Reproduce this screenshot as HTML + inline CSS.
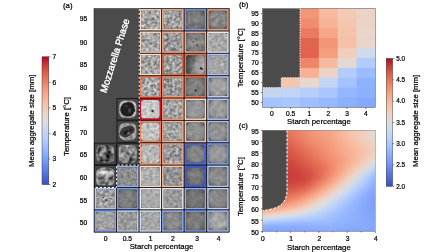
<!DOCTYPE html>
<html lang="en"><head><meta charset="utf-8"><title>Mean aggregate size phase diagram</title>
<style>html,body{margin:0;padding:0;background:#fff;overflow:hidden}svg{display:block}text{font-family:'Liberation Sans', Arial, Helvetica, sans-serif;fill:#000;stroke:#000;stroke-width:0.22px}</style>
</head><body>
<svg width="448" height="252" viewBox="0 0 448 252">
<rect x="0" y="0" width="448" height="252" fill="#fff"/>
<defs><radialGradient id="vig" cx="0.5" cy="0.5" r="0.72"><stop offset="0" stop-color="#fff" stop-opacity="0.06"/><stop offset="0.5" stop-color="#000" stop-opacity="0"/><stop offset="0.80" stop-color="#000" stop-opacity="0.18"/><stop offset="1" stop-color="#1a0d00" stop-opacity="0.8"/></radialGradient><radialGradient id="mvig" cx="0.5" cy="0.5" r="0.72"><stop offset="0.6" stop-color="#000" stop-opacity="0"/><stop offset="0.82" stop-color="#000" stop-opacity="0.25"/><stop offset="1" stop-color="#000" stop-opacity="0.7"/></radialGradient><linearGradient id="lg85" x1="0" y1="0" x2="1" y2="0.3"><stop offset="0" stop-color="#000" stop-opacity="0.36"/><stop offset="0.45" stop-color="#000" stop-opacity="0.08"/><stop offset="0.55" stop-color="#fff" stop-opacity="0.12"/><stop offset="1" stop-color="#fff" stop-opacity="0.42"/></linearGradient><filter id="n0_2" x="0" y="0" width="1" height="1" color-interpolation-filters="sRGB"><feTurbulence type="fractalNoise" baseFrequency="0.33" numOctaves="2" seed="2" result="t"/><feColorMatrix in="t" type="matrix" values="0.763 0 0 0 0.258 0.763 0 0 0 0.258 0.763 0 0 0 0.258 0 0 0 0 1" result="g"/><feComposite in="g" in2="SourceGraphic" operator="in"/></filter><filter id="n0_3" x="0" y="0" width="1" height="1" color-interpolation-filters="sRGB"><feTurbulence type="fractalNoise" baseFrequency="0.33" numOctaves="2" seed="3" result="t"/><feColorMatrix in="t" type="matrix" values="0.763 0 0 0 0.238 0.763 0 0 0 0.238 0.763 0 0 0 0.238 0 0 0 0 1" result="g"/><feComposite in="g" in2="SourceGraphic" operator="in"/></filter><filter id="n0_4" x="0" y="0" width="1" height="1" color-interpolation-filters="sRGB"><feTurbulence type="fractalNoise" baseFrequency="0.22" numOctaves="2" seed="4" result="t"/><feColorMatrix in="t" type="matrix" values="0.231 0 0 0 0.375 0.231 0 0 0 0.375 0.231 0 0 0 0.375 0 0 0 0 1" result="g"/><feComposite in="g" in2="SourceGraphic" operator="in"/></filter><filter id="n0_5" x="0" y="0" width="1" height="1" color-interpolation-filters="sRGB"><feTurbulence type="fractalNoise" baseFrequency="0.22" numOctaves="2" seed="5" result="t"/><feColorMatrix in="t" type="matrix" values="0.277 0 0 0 0.392 0.277 0 0 0 0.392 0.277 0 0 0 0.392 0 0 0 0 1" result="g"/><feComposite in="g" in2="SourceGraphic" operator="in"/></filter><filter id="n1_2" x="0" y="0" width="1" height="1" color-interpolation-filters="sRGB"><feTurbulence type="fractalNoise" baseFrequency="0.33" numOctaves="2" seed="6" result="t"/><feColorMatrix in="t" type="matrix" values="0.715 0 0 0 0.292 0.715 0 0 0 0.292 0.715 0 0 0 0.292 0 0 0 0 1" result="g"/><feComposite in="g" in2="SourceGraphic" operator="in"/></filter><filter id="n1_3" x="0" y="0" width="1" height="1" color-interpolation-filters="sRGB"><feTurbulence type="fractalNoise" baseFrequency="0.33" numOctaves="2" seed="7" result="t"/><feColorMatrix in="t" type="matrix" values="0.763 0 0 0 0.218 0.763 0 0 0 0.218 0.763 0 0 0 0.218 0 0 0 0 1" result="g"/><feComposite in="g" in2="SourceGraphic" operator="in"/></filter><filter id="n1_4" x="0" y="0" width="1" height="1" color-interpolation-filters="sRGB"><feTurbulence type="fractalNoise" baseFrequency="0.22" numOctaves="2" seed="8" result="t"/><feColorMatrix in="t" type="matrix" values="0.277 0 0 0 0.392 0.277 0 0 0 0.392 0.277 0 0 0 0.392 0 0 0 0 1" result="g"/><feComposite in="g" in2="SourceGraphic" operator="in"/></filter><filter id="n1_5" x="0" y="0" width="1" height="1" color-interpolation-filters="sRGB"><feTurbulence type="fractalNoise" baseFrequency="0.33" numOctaves="2" seed="9" result="t"/><feColorMatrix in="t" type="matrix" values="0.429 0 0 0 0.445 0.429 0 0 0 0.445 0.429 0 0 0 0.445 0 0 0 0 1" result="g"/><feComposite in="g" in2="SourceGraphic" operator="in"/></filter><filter id="n2_2" x="0" y="0" width="1" height="1" color-interpolation-filters="sRGB"><feTurbulence type="fractalNoise" baseFrequency="0.33" numOctaves="2" seed="10" result="t"/><feColorMatrix in="t" type="matrix" values="0.763 0 0 0 0.258 0.763 0 0 0 0.258 0.763 0 0 0 0.258 0 0 0 0 1" result="g"/><feComposite in="g" in2="SourceGraphic" operator="in"/></filter><filter id="n2_3" x="0" y="0" width="1" height="1" color-interpolation-filters="sRGB"><feTurbulence type="fractalNoise" baseFrequency="0.33" numOctaves="2" seed="11" result="t"/><feColorMatrix in="t" type="matrix" values="0.715 0 0 0 0.262 0.715 0 0 0 0.262 0.715 0 0 0 0.262 0 0 0 0 1" result="g"/><feComposite in="g" in2="SourceGraphic" operator="in"/></filter><filter id="n2_4" x="0" y="0" width="1" height="1" color-interpolation-filters="sRGB"><feTurbulence type="fractalNoise" baseFrequency="0.22" numOctaves="2" seed="12" result="t"/><feColorMatrix in="t" type="matrix" values="0.231 0 0 0 0.345 0.231 0 0 0 0.345 0.231 0 0 0 0.345 0 0 0 0 1" result="g"/><feComposite in="g" in2="SourceGraphic" operator="in"/></filter><filter id="n2_5" x="0" y="0" width="1" height="1" color-interpolation-filters="sRGB"><feTurbulence type="fractalNoise" baseFrequency="0.33" numOctaves="2" seed="13" result="t"/><feColorMatrix in="t" type="matrix" values="0.334 0 0 0 0.483 0.334 0 0 0 0.483 0.334 0 0 0 0.483 0 0 0 0 1" result="g"/><feComposite in="g" in2="SourceGraphic" operator="in"/></filter><filter id="n3_2" x="0" y="0" width="1" height="1" color-interpolation-filters="sRGB"><feTurbulence type="fractalNoise" baseFrequency="0.33" numOctaves="2" seed="14" result="t"/><feColorMatrix in="t" type="matrix" values="0.811 0 0 0 0.255 0.811 0 0 0 0.255 0.811 0 0 0 0.255 0 0 0 0 1" result="g"/><feComposite in="g" in2="SourceGraphic" operator="in"/></filter><filter id="n3_3" x="0" y="0" width="1" height="1" color-interpolation-filters="sRGB"><feTurbulence type="fractalNoise" baseFrequency="0.33" numOctaves="2" seed="15" result="t"/><feColorMatrix in="t" type="matrix" values="0.763 0 0 0 0.208 0.763 0 0 0 0.208 0.763 0 0 0 0.208 0 0 0 0 1" result="g"/><feComposite in="g" in2="SourceGraphic" operator="in"/></filter><filter id="n3_4" x="0" y="0" width="1" height="1" color-interpolation-filters="sRGB"><feTurbulence type="fractalNoise" baseFrequency="0.22" numOctaves="2" seed="16" result="t"/><feColorMatrix in="t" type="matrix" values="0.185 0 0 0 0.408 0.185 0 0 0 0.408 0.185 0 0 0 0.408 0 0 0 0 1" result="g"/><feComposite in="g" in2="SourceGraphic" operator="in"/></filter><filter id="n3_5" x="0" y="0" width="1" height="1" color-interpolation-filters="sRGB"><feTurbulence type="fractalNoise" baseFrequency="0.22" numOctaves="2" seed="17" result="t"/><feColorMatrix in="t" type="matrix" values="0.231 0 0 0 0.515 0.231 0 0 0 0.515 0.231 0 0 0 0.515 0 0 0 0 1" result="g"/><feComposite in="g" in2="SourceGraphic" operator="in"/></filter><filter id="n4_1" x="0" y="0" width="1" height="1" color-interpolation-filters="sRGB"><feTurbulence type="fractalNoise" baseFrequency="0.3" numOctaves="2" seed="18" result="t"/><feColorMatrix in="t" type="matrix" values="0.538 0 0 0 0.411 0.538 0 0 0 0.411 0.538 0 0 0 0.411 0 0 0 0 1" result="g"/><feComposite in="g" in2="SourceGraphic" operator="in"/></filter><filter id="n4_2" x="0" y="0" width="1" height="1" color-interpolation-filters="sRGB"><feTurbulence type="fractalNoise" baseFrequency="0.32" numOctaves="2" seed="19" result="t"/><feColorMatrix in="t" type="matrix" values="0.400 0 0 0 0.580 0.400 0 0 0 0.580 0.400 0 0 0 0.580 0 0 0 0 1" result="g"/><feComposite in="g" in2="SourceGraphic" operator="in"/></filter><filter id="n4_3" x="0" y="0" width="1" height="1" color-interpolation-filters="sRGB"><feTurbulence type="fractalNoise" baseFrequency="0.33" numOctaves="2" seed="20" result="t"/><feColorMatrix in="t" type="matrix" values="0.668 0 0 0 0.306 0.668 0 0 0 0.306 0.668 0 0 0 0.306 0 0 0 0 1" result="g"/><feComposite in="g" in2="SourceGraphic" operator="in"/></filter><filter id="n4_4" x="0" y="0" width="1" height="1" color-interpolation-filters="sRGB"><feTurbulence type="fractalNoise" baseFrequency="0.22" numOctaves="2" seed="21" result="t"/><feColorMatrix in="t" type="matrix" values="0.231 0 0 0 0.475 0.231 0 0 0 0.475 0.231 0 0 0 0.475 0 0 0 0 1" result="g"/><feComposite in="g" in2="SourceGraphic" operator="in"/></filter><filter id="n4_5" x="0" y="0" width="1" height="1" color-interpolation-filters="sRGB"><feTurbulence type="fractalNoise" baseFrequency="0.22" numOctaves="2" seed="22" result="t"/><feColorMatrix in="t" type="matrix" values="0.231 0 0 0 0.495 0.231 0 0 0 0.495 0.231 0 0 0 0.495 0 0 0 0 1" result="g"/><feComposite in="g" in2="SourceGraphic" operator="in"/></filter><filter id="n5_1" x="0" y="0" width="1" height="1" color-interpolation-filters="sRGB"><feTurbulence type="fractalNoise" baseFrequency="0.3" numOctaves="2" seed="23" result="t"/><feColorMatrix in="t" type="matrix" values="0.538 0 0 0 0.331 0.538 0 0 0 0.331 0.538 0 0 0 0.331 0 0 0 0 1" result="g"/><feComposite in="g" in2="SourceGraphic" operator="in"/></filter><filter id="n5_2" x="0" y="0" width="1" height="1" color-interpolation-filters="sRGB"><feTurbulence type="fractalNoise" baseFrequency="0.32" numOctaves="2" seed="24" result="t"/><feColorMatrix in="t" type="matrix" values="0.450 0 0 0 0.535 0.450 0 0 0 0.535 0.450 0 0 0 0.535 0 0 0 0 1" result="g"/><feComposite in="g" in2="SourceGraphic" operator="in"/></filter><filter id="n5_3" x="0" y="0" width="1" height="1" color-interpolation-filters="sRGB"><feTurbulence type="fractalNoise" baseFrequency="0.33" numOctaves="2" seed="25" result="t"/><feColorMatrix in="t" type="matrix" values="0.572 0 0 0 0.344 0.572 0 0 0 0.344 0.572 0 0 0 0.344 0 0 0 0 1" result="g"/><feComposite in="g" in2="SourceGraphic" operator="in"/></filter><filter id="n5_4" x="0" y="0" width="1" height="1" color-interpolation-filters="sRGB"><feTurbulence type="fractalNoise" baseFrequency="0.22" numOctaves="2" seed="26" result="t"/><feColorMatrix in="t" type="matrix" values="0.231 0 0 0 0.455 0.231 0 0 0 0.455 0.231 0 0 0 0.455 0 0 0 0 1" result="g"/><feComposite in="g" in2="SourceGraphic" operator="in"/></filter><filter id="n5_5" x="0" y="0" width="1" height="1" color-interpolation-filters="sRGB"><feTurbulence type="fractalNoise" baseFrequency="0.22" numOctaves="2" seed="27" result="t"/><feColorMatrix in="t" type="matrix" values="0.231 0 0 0 0.465 0.231 0 0 0 0.465 0.231 0 0 0 0.465 0 0 0 0 1" result="g"/><feComposite in="g" in2="SourceGraphic" operator="in"/></filter><filter id="n6_0" x="0" y="0" width="1" height="1" color-interpolation-filters="sRGB"><feTurbulence type="fractalNoise" baseFrequency="0.17" numOctaves="2" seed="28" result="t"/><feColorMatrix in="t" type="matrix" values="1.308 0 0 0 -0.254 1.308 0 0 0 -0.254 1.308 0 0 0 -0.254 0 0 0 0 1" result="g"/><feComposite in="g" in2="SourceGraphic" operator="in"/></filter><filter id="n6_1" x="0" y="0" width="1" height="1" color-interpolation-filters="sRGB"><feTurbulence type="fractalNoise" baseFrequency="0.17" numOctaves="2" seed="29" result="t"/><feColorMatrix in="t" type="matrix" values="1.308 0 0 0 -0.134 1.308 0 0 0 -0.134 1.308 0 0 0 -0.134 0 0 0 0 1" result="g"/><feComposite in="g" in2="SourceGraphic" operator="in"/></filter><filter id="n6_2" x="0" y="0" width="1" height="1" color-interpolation-filters="sRGB"><feTurbulence type="fractalNoise" baseFrequency="0.32" numOctaves="2" seed="30" result="t"/><feColorMatrix in="t" type="matrix" values="0.450 0 0 0 0.495 0.450 0 0 0 0.495 0.450 0 0 0 0.495 0 0 0 0 1" result="g"/><feComposite in="g" in2="SourceGraphic" operator="in"/></filter><filter id="n6_3" x="0" y="0" width="1" height="1" color-interpolation-filters="sRGB"><feTurbulence type="fractalNoise" baseFrequency="0.33" numOctaves="2" seed="31" result="t"/><feColorMatrix in="t" type="matrix" values="0.715 0 0 0 0.242 0.715 0 0 0 0.242 0.715 0 0 0 0.242 0 0 0 0 1" result="g"/><feComposite in="g" in2="SourceGraphic" operator="in"/></filter><filter id="n6_4" x="0" y="0" width="1" height="1" color-interpolation-filters="sRGB"><feTurbulence type="fractalNoise" baseFrequency="0.22" numOctaves="2" seed="32" result="t"/><feColorMatrix in="t" type="matrix" values="0.185 0 0 0 0.428 0.185 0 0 0 0.428 0.185 0 0 0 0.428 0 0 0 0 1" result="g"/><feComposite in="g" in2="SourceGraphic" operator="in"/></filter><filter id="n6_5" x="0" y="0" width="1" height="1" color-interpolation-filters="sRGB"><feTurbulence type="fractalNoise" baseFrequency="0.22" numOctaves="2" seed="33" result="t"/><feColorMatrix in="t" type="matrix" values="0.185 0 0 0 0.508 0.185 0 0 0 0.508 0.185 0 0 0 0.508 0 0 0 0 1" result="g"/><feComposite in="g" in2="SourceGraphic" operator="in"/></filter><filter id="n7_0" x="0" y="0" width="1" height="1" color-interpolation-filters="sRGB"><feTurbulence type="fractalNoise" baseFrequency="0.17" numOctaves="2" seed="34" result="t"/><feColorMatrix in="t" type="matrix" values="1.308 0 0 0 -0.114 1.308 0 0 0 -0.114 1.308 0 0 0 -0.114 0 0 0 0 1" result="g"/><feComposite in="g" in2="SourceGraphic" operator="in"/></filter><filter id="n7_1" x="0" y="0" width="1" height="1" color-interpolation-filters="sRGB"><feTurbulence type="fractalNoise" baseFrequency="0.33" numOctaves="2" seed="35" result="t"/><feColorMatrix in="t" type="matrix" values="0.358 0 0 0 0.371 0.358 0 0 0 0.371 0.358 0 0 0 0.371 0 0 0 0 1" result="g"/><feComposite in="g" in2="SourceGraphic" operator="in"/></filter><filter id="n7_2" x="0" y="0" width="1" height="1" color-interpolation-filters="sRGB"><feTurbulence type="fractalNoise" baseFrequency="0.32" numOctaves="2" seed="36" result="t"/><feColorMatrix in="t" type="matrix" values="0.350 0 0 0 0.515 0.350 0 0 0 0.515 0.350 0 0 0 0.515 0 0 0 0 1" result="g"/><feComposite in="g" in2="SourceGraphic" operator="in"/></filter><filter id="n7_3" x="0" y="0" width="1" height="1" color-interpolation-filters="sRGB"><feTurbulence type="fractalNoise" baseFrequency="0.33" numOctaves="2" seed="37" result="t"/><feColorMatrix in="t" type="matrix" values="0.477 0 0 0 0.332 0.477 0 0 0 0.332 0.477 0 0 0 0.332 0 0 0 0 1" result="g"/><feComposite in="g" in2="SourceGraphic" operator="in"/></filter><filter id="n7_4" x="0" y="0" width="1" height="1" color-interpolation-filters="sRGB"><feTurbulence type="fractalNoise" baseFrequency="0.22" numOctaves="2" seed="38" result="t"/><feColorMatrix in="t" type="matrix" values="0.185 0 0 0 0.378 0.185 0 0 0 0.378 0.185 0 0 0 0.378 0 0 0 0 1" result="g"/><feComposite in="g" in2="SourceGraphic" operator="in"/></filter><filter id="n7_5" x="0" y="0" width="1" height="1" color-interpolation-filters="sRGB"><feTurbulence type="fractalNoise" baseFrequency="0.22" numOctaves="2" seed="39" result="t"/><feColorMatrix in="t" type="matrix" values="0.185 0 0 0 0.458 0.185 0 0 0 0.458 0.185 0 0 0 0.458 0 0 0 0 1" result="g"/><feComposite in="g" in2="SourceGraphic" operator="in"/></filter><filter id="n8_0" x="0" y="0" width="1" height="1" color-interpolation-filters="sRGB"><feTurbulence type="fractalNoise" baseFrequency="0.33" numOctaves="2" seed="40" result="t"/><feColorMatrix in="t" type="matrix" values="0.572 0 0 0 0.344 0.572 0 0 0 0.344 0.572 0 0 0 0.344 0 0 0 0 1" result="g"/><feComposite in="g" in2="SourceGraphic" operator="in"/></filter><filter id="n8_1" x="0" y="0" width="1" height="1" color-interpolation-filters="sRGB"><feTurbulence type="fractalNoise" baseFrequency="0.22" numOctaves="2" seed="41" result="t"/><feColorMatrix in="t" type="matrix" values="0.231 0 0 0 0.385 0.231 0 0 0 0.385 0.231 0 0 0 0.385 0 0 0 0 1" result="g"/><feComposite in="g" in2="SourceGraphic" operator="in"/></filter><filter id="n8_2" x="0" y="0" width="1" height="1" color-interpolation-filters="sRGB"><feTurbulence type="fractalNoise" baseFrequency="0.32" numOctaves="2" seed="42" result="t"/><feColorMatrix in="t" type="matrix" values="0.300 0 0 0 0.520 0.300 0 0 0 0.520 0.300 0 0 0 0.520 0 0 0 0 1" result="g"/><feComposite in="g" in2="SourceGraphic" operator="in"/></filter><filter id="n8_3" x="0" y="0" width="1" height="1" color-interpolation-filters="sRGB"><feTurbulence type="fractalNoise" baseFrequency="0.33" numOctaves="2" seed="43" result="t"/><feColorMatrix in="t" type="matrix" values="0.382 0 0 0 0.409 0.382 0 0 0 0.409 0.382 0 0 0 0.409 0 0 0 0 1" result="g"/><feComposite in="g" in2="SourceGraphic" operator="in"/></filter><filter id="n8_4" x="0" y="0" width="1" height="1" color-interpolation-filters="sRGB"><feTurbulence type="fractalNoise" baseFrequency="0.22" numOctaves="2" seed="44" result="t"/><feColorMatrix in="t" type="matrix" values="0.185 0 0 0 0.368 0.185 0 0 0 0.368 0.185 0 0 0 0.368 0 0 0 0 1" result="g"/><feComposite in="g" in2="SourceGraphic" operator="in"/></filter><filter id="n8_5" x="0" y="0" width="1" height="1" color-interpolation-filters="sRGB"><feTurbulence type="fractalNoise" baseFrequency="0.22" numOctaves="2" seed="45" result="t"/><feColorMatrix in="t" type="matrix" values="0.231 0 0 0 0.425 0.231 0 0 0 0.425 0.231 0 0 0 0.425 0 0 0 0 1" result="g"/><feComposite in="g" in2="SourceGraphic" operator="in"/></filter><filter id="n9_0" x="0" y="0" width="1" height="1" color-interpolation-filters="sRGB"><feTurbulence type="fractalNoise" baseFrequency="0.33" numOctaves="2" seed="46" result="t"/><feColorMatrix in="t" type="matrix" values="0.334 0 0 0 0.463 0.334 0 0 0 0.463 0.334 0 0 0 0.463 0 0 0 0 1" result="g"/><feComposite in="g" in2="SourceGraphic" operator="in"/></filter><filter id="n9_1" x="0" y="0" width="1" height="1" color-interpolation-filters="sRGB"><feTurbulence type="fractalNoise" baseFrequency="0.33" numOctaves="2" seed="47" result="t"/><feColorMatrix in="t" type="matrix" values="0.382 0 0 0 0.409 0.382 0 0 0 0.409 0.382 0 0 0 0.409 0 0 0 0 1" result="g"/><feComposite in="g" in2="SourceGraphic" operator="in"/></filter><filter id="n9_2" x="0" y="0" width="1" height="1" color-interpolation-filters="sRGB"><feTurbulence type="fractalNoise" baseFrequency="0.33" numOctaves="2" seed="48" result="t"/><feColorMatrix in="t" type="matrix" values="0.334 0 0 0 0.483 0.334 0 0 0 0.483 0.334 0 0 0 0.483 0 0 0 0 1" result="g"/><feComposite in="g" in2="SourceGraphic" operator="in"/></filter><filter id="n9_3" x="0" y="0" width="1" height="1" color-interpolation-filters="sRGB"><feTurbulence type="fractalNoise" baseFrequency="0.22" numOctaves="2" seed="49" result="t"/><feColorMatrix in="t" type="matrix" values="0.231 0 0 0 0.435 0.231 0 0 0 0.435 0.231 0 0 0 0.435 0 0 0 0 1" result="g"/><feComposite in="g" in2="SourceGraphic" operator="in"/></filter><filter id="n9_4" x="0" y="0" width="1" height="1" color-interpolation-filters="sRGB"><feTurbulence type="fractalNoise" baseFrequency="0.22" numOctaves="2" seed="50" result="t"/><feColorMatrix in="t" type="matrix" values="0.185 0 0 0 0.398 0.185 0 0 0 0.398 0.185 0 0 0 0.398 0 0 0 0 1" result="g"/><feComposite in="g" in2="SourceGraphic" operator="in"/></filter><filter id="n9_5" x="0" y="0" width="1" height="1" color-interpolation-filters="sRGB"><feTurbulence type="fractalNoise" baseFrequency="0.22" numOctaves="2" seed="51" result="t"/><feColorMatrix in="t" type="matrix" values="0.231 0 0 0 0.535 0.231 0 0 0 0.535 0.231 0 0 0 0.535 0 0 0 0 1" result="g"/><feComposite in="g" in2="SourceGraphic" operator="in"/></filter><linearGradient id="cb" x1="0" y1="0" x2="0" y2="1"><stop offset="0.000" stop-color="#b40426"/><stop offset="0.062" stop-color="#ca3b37"/><stop offset="0.125" stop-color="#dd5f4b"/><stop offset="0.188" stop-color="#eb7d62"/><stop offset="0.250" stop-color="#f4987a"/><stop offset="0.312" stop-color="#f7b093"/><stop offset="0.375" stop-color="#f5c4ac"/><stop offset="0.438" stop-color="#ecd3c5"/><stop offset="0.500" stop-color="#dddcdc"/><stop offset="0.562" stop-color="#ccd9ed"/><stop offset="0.625" stop-color="#b9d0f9"/><stop offset="0.688" stop-color="#a3c2fe"/><stop offset="0.750" stop-color="#8db0fe"/><stop offset="0.812" stop-color="#779af7"/><stop offset="0.875" stop-color="#6282ea"/><stop offset="0.938" stop-color="#4e68d8"/><stop offset="1.000" stop-color="#3b4cc0"/></linearGradient><linearGradient id="c0" x1="0" y1="0" x2="1" y2="0"><stop offset="0.0000" stop-color="#e57058"/><stop offset="0.0625" stop-color="#e67259"/><stop offset="0.1250" stop-color="#e57058"/><stop offset="0.1875" stop-color="#e57058"/><stop offset="0.2500" stop-color="#e7745b"/><stop offset="0.3125" stop-color="#eb7d62"/><stop offset="0.3750" stop-color="#ef886b"/><stop offset="0.4375" stop-color="#f29274"/><stop offset="0.5000" stop-color="#f4987a"/><stop offset="0.5625" stop-color="#f5a081"/><stop offset="0.6250" stop-color="#f7a889"/><stop offset="0.6875" stop-color="#f7b396"/><stop offset="0.7500" stop-color="#f6bda2"/><stop offset="0.8125" stop-color="#f4c6af"/><stop offset="0.8750" stop-color="#f0cdbb"/><stop offset="0.9375" stop-color="#ebd3c6"/><stop offset="1.0000" stop-color="#e3d9d3"/></linearGradient><linearGradient id="c1" x1="0" y1="0" x2="1" y2="0"><stop offset="0.0000" stop-color="#e46e56"/><stop offset="0.0625" stop-color="#e57058"/><stop offset="0.1250" stop-color="#e46e56"/><stop offset="0.1875" stop-color="#e46e56"/><stop offset="0.2500" stop-color="#e67259"/><stop offset="0.3125" stop-color="#ea7b60"/><stop offset="0.3750" stop-color="#ef886b"/><stop offset="0.4375" stop-color="#f29072"/><stop offset="0.5000" stop-color="#f39778"/><stop offset="0.5625" stop-color="#f59d7e"/><stop offset="0.6250" stop-color="#f7a688"/><stop offset="0.6875" stop-color="#f7b194"/><stop offset="0.7500" stop-color="#f6bda2"/><stop offset="0.8125" stop-color="#f4c6af"/><stop offset="0.8750" stop-color="#f0cdbb"/><stop offset="0.9375" stop-color="#ead4c8"/><stop offset="1.0000" stop-color="#e3d9d3"/></linearGradient><linearGradient id="c2" x1="0" y1="0" x2="1" y2="0"><stop offset="0.0000" stop-color="#e46e56"/><stop offset="0.0625" stop-color="#e57058"/><stop offset="0.1250" stop-color="#e46e56"/><stop offset="0.1875" stop-color="#e36c55"/><stop offset="0.2500" stop-color="#e57058"/><stop offset="0.3125" stop-color="#e97a5f"/><stop offset="0.3750" stop-color="#ee8669"/><stop offset="0.4375" stop-color="#f18f71"/><stop offset="0.5000" stop-color="#f39577"/><stop offset="0.5625" stop-color="#f59c7d"/><stop offset="0.6250" stop-color="#f6a586"/><stop offset="0.6875" stop-color="#f7b093"/><stop offset="0.7500" stop-color="#f7bca1"/><stop offset="0.8125" stop-color="#f4c5ad"/><stop offset="0.8750" stop-color="#f1cdba"/><stop offset="0.9375" stop-color="#ebd3c6"/><stop offset="1.0000" stop-color="#e4d9d2"/></linearGradient><linearGradient id="c3" x1="0" y1="0" x2="1" y2="0"><stop offset="0.0000" stop-color="#e36c55"/><stop offset="0.0625" stop-color="#e46e56"/><stop offset="0.1250" stop-color="#e36c55"/><stop offset="0.1875" stop-color="#e36b54"/><stop offset="0.2500" stop-color="#e36c55"/><stop offset="0.3125" stop-color="#e9785d"/><stop offset="0.3750" stop-color="#ee8468"/><stop offset="0.4375" stop-color="#f18f71"/><stop offset="0.5000" stop-color="#f39577"/><stop offset="0.5625" stop-color="#f59c7d"/><stop offset="0.6250" stop-color="#f6a385"/><stop offset="0.6875" stop-color="#f7af91"/><stop offset="0.7500" stop-color="#f7ba9f"/><stop offset="0.8125" stop-color="#f5c4ac"/><stop offset="0.8750" stop-color="#f1ccb8"/><stop offset="0.9375" stop-color="#ecd3c5"/><stop offset="1.0000" stop-color="#e5d8d1"/></linearGradient><linearGradient id="c4" x1="0" y1="0" x2="1" y2="0"><stop offset="0.0000" stop-color="#e36b54"/><stop offset="0.0625" stop-color="#e36c55"/><stop offset="0.1250" stop-color="#e36b54"/><stop offset="0.1875" stop-color="#e16751"/><stop offset="0.2500" stop-color="#e36b54"/><stop offset="0.3125" stop-color="#e8765c"/><stop offset="0.3750" stop-color="#ed8366"/><stop offset="0.4375" stop-color="#f08b6e"/><stop offset="0.5000" stop-color="#f39475"/><stop offset="0.5625" stop-color="#f49a7b"/><stop offset="0.6250" stop-color="#f6a283"/><stop offset="0.6875" stop-color="#f7ad90"/><stop offset="0.7500" stop-color="#f7b99e"/><stop offset="0.8125" stop-color="#f5c2aa"/><stop offset="0.8750" stop-color="#f2cab5"/><stop offset="0.9375" stop-color="#edd1c2"/><stop offset="1.0000" stop-color="#e7d7ce"/></linearGradient><linearGradient id="c5" x1="0" y1="0" x2="1" y2="0"><stop offset="0.0000" stop-color="#e26952"/><stop offset="0.0625" stop-color="#e36b54"/><stop offset="0.1250" stop-color="#e26952"/><stop offset="0.1875" stop-color="#e0654f"/><stop offset="0.2500" stop-color="#e26952"/><stop offset="0.3125" stop-color="#e67259"/><stop offset="0.3750" stop-color="#ec7f63"/><stop offset="0.4375" stop-color="#f08a6c"/><stop offset="0.5000" stop-color="#f29274"/><stop offset="0.5625" stop-color="#f4987a"/><stop offset="0.6250" stop-color="#f6a283"/><stop offset="0.6875" stop-color="#f7ac8e"/><stop offset="0.7500" stop-color="#f7b79b"/><stop offset="0.8125" stop-color="#f5c0a7"/><stop offset="0.8750" stop-color="#f2c9b4"/><stop offset="0.9375" stop-color="#efcfbf"/><stop offset="1.0000" stop-color="#e9d5cb"/></linearGradient><linearGradient id="c6" x1="0" y1="0" x2="1" y2="0"><stop offset="0.0000" stop-color="#e0654f"/><stop offset="0.0625" stop-color="#e26952"/><stop offset="0.1250" stop-color="#e0654f"/><stop offset="0.1875" stop-color="#df634e"/><stop offset="0.2500" stop-color="#e0654f"/><stop offset="0.3125" stop-color="#e57058"/><stop offset="0.3750" stop-color="#eb7d62"/><stop offset="0.4375" stop-color="#ef886b"/><stop offset="0.5000" stop-color="#f18f71"/><stop offset="0.5625" stop-color="#f39778"/><stop offset="0.6250" stop-color="#f5a081"/><stop offset="0.6875" stop-color="#f7aa8c"/><stop offset="0.7500" stop-color="#f7b599"/><stop offset="0.8125" stop-color="#f6bea4"/><stop offset="0.8750" stop-color="#f3c7b1"/><stop offset="0.9375" stop-color="#f0cdbb"/><stop offset="1.0000" stop-color="#ead4c8"/></linearGradient><linearGradient id="c7" x1="0" y1="0" x2="1" y2="0"><stop offset="0.0000" stop-color="#df634e"/><stop offset="0.0625" stop-color="#e0654f"/><stop offset="0.1250" stop-color="#df634e"/><stop offset="0.1875" stop-color="#de614d"/><stop offset="0.2500" stop-color="#df634e"/><stop offset="0.3125" stop-color="#e36c55"/><stop offset="0.3750" stop-color="#e97a5f"/><stop offset="0.4375" stop-color="#ee8468"/><stop offset="0.5000" stop-color="#f18d6f"/><stop offset="0.5625" stop-color="#f39778"/><stop offset="0.6250" stop-color="#f59f80"/><stop offset="0.6875" stop-color="#f7a98b"/><stop offset="0.7500" stop-color="#f7b396"/><stop offset="0.8125" stop-color="#f6bda2"/><stop offset="0.8750" stop-color="#f4c5ad"/><stop offset="0.9375" stop-color="#f1ccb8"/><stop offset="1.0000" stop-color="#ecd3c5"/></linearGradient><linearGradient id="c8" x1="0" y1="0" x2="1" y2="0"><stop offset="0.0000" stop-color="#de614d"/><stop offset="0.0625" stop-color="#df634e"/><stop offset="0.1250" stop-color="#de614d"/><stop offset="0.1875" stop-color="#dc5d4a"/><stop offset="0.2500" stop-color="#de614d"/><stop offset="0.3125" stop-color="#e26952"/><stop offset="0.3750" stop-color="#e8765c"/><stop offset="0.4375" stop-color="#ec8165"/><stop offset="0.5000" stop-color="#f08b6e"/><stop offset="0.5625" stop-color="#f39577"/><stop offset="0.6250" stop-color="#f59f80"/><stop offset="0.6875" stop-color="#f7a889"/><stop offset="0.7500" stop-color="#f7b194"/><stop offset="0.8125" stop-color="#f7ba9f"/><stop offset="0.8750" stop-color="#f5c2aa"/><stop offset="0.9375" stop-color="#f2cbb7"/><stop offset="1.0000" stop-color="#edd1c2"/></linearGradient><linearGradient id="c9" x1="0" y1="0" x2="1" y2="0"><stop offset="0.0000" stop-color="#dc5d4a"/><stop offset="0.0625" stop-color="#dd5f4b"/><stop offset="0.1250" stop-color="#dc5d4a"/><stop offset="0.1875" stop-color="#da5a49"/><stop offset="0.2500" stop-color="#dc5d4a"/><stop offset="0.3125" stop-color="#e16751"/><stop offset="0.3750" stop-color="#e67259"/><stop offset="0.4375" stop-color="#ec7f63"/><stop offset="0.5000" stop-color="#f08a6c"/><stop offset="0.5625" stop-color="#f39475"/><stop offset="0.6250" stop-color="#f59d7e"/><stop offset="0.6875" stop-color="#f7a688"/><stop offset="0.7500" stop-color="#f7af91"/><stop offset="0.8125" stop-color="#f7b99e"/><stop offset="0.8750" stop-color="#f5c1a9"/><stop offset="0.9375" stop-color="#f2cab5"/><stop offset="1.0000" stop-color="#eed0c0"/></linearGradient><linearGradient id="c10" x1="0" y1="0" x2="1" y2="0"><stop offset="0.0000" stop-color="#da5a49"/><stop offset="0.0625" stop-color="#dc5d4a"/><stop offset="0.1250" stop-color="#da5a49"/><stop offset="0.1875" stop-color="#d95847"/><stop offset="0.2500" stop-color="#da5a49"/><stop offset="0.3125" stop-color="#df634e"/><stop offset="0.3750" stop-color="#e46e56"/><stop offset="0.4375" stop-color="#ea7b60"/><stop offset="0.5000" stop-color="#ee8669"/><stop offset="0.5625" stop-color="#f29072"/><stop offset="0.6250" stop-color="#f59c7d"/><stop offset="0.6875" stop-color="#f6a586"/><stop offset="0.7500" stop-color="#f7ad90"/><stop offset="0.8125" stop-color="#f7b79b"/><stop offset="0.8750" stop-color="#f5c0a7"/><stop offset="0.9375" stop-color="#f2c9b4"/><stop offset="1.0000" stop-color="#edd1c2"/></linearGradient><linearGradient id="c11" x1="0" y1="0" x2="1" y2="0"><stop offset="0.0000" stop-color="#d85646"/><stop offset="0.0625" stop-color="#d95847"/><stop offset="0.1250" stop-color="#d85646"/><stop offset="0.1875" stop-color="#d75445"/><stop offset="0.2500" stop-color="#d85646"/><stop offset="0.3125" stop-color="#de614d"/><stop offset="0.3750" stop-color="#e36c55"/><stop offset="0.4375" stop-color="#e9785d"/><stop offset="0.5000" stop-color="#ed8366"/><stop offset="0.5625" stop-color="#f18f71"/><stop offset="0.6250" stop-color="#f4987a"/><stop offset="0.6875" stop-color="#f6a385"/><stop offset="0.7500" stop-color="#f7ac8e"/><stop offset="0.8125" stop-color="#f7b599"/><stop offset="0.8750" stop-color="#f5c0a7"/><stop offset="0.9375" stop-color="#f2c9b4"/><stop offset="1.0000" stop-color="#edd2c3"/></linearGradient><linearGradient id="c12" x1="0" y1="0" x2="1" y2="0"><stop offset="0.0000" stop-color="#d75445"/><stop offset="0.0625" stop-color="#d85646"/><stop offset="0.1250" stop-color="#d75445"/><stop offset="0.1875" stop-color="#d65244"/><stop offset="0.2500" stop-color="#d75445"/><stop offset="0.3125" stop-color="#dc5d4a"/><stop offset="0.3750" stop-color="#e26952"/><stop offset="0.4375" stop-color="#e7745b"/><stop offset="0.5000" stop-color="#ec8165"/><stop offset="0.5625" stop-color="#f08b6e"/><stop offset="0.6250" stop-color="#f39778"/><stop offset="0.6875" stop-color="#f5a081"/><stop offset="0.7500" stop-color="#f7aa8c"/><stop offset="0.8125" stop-color="#f7b599"/><stop offset="0.8750" stop-color="#f5c0a7"/><stop offset="0.9375" stop-color="#f2cbb7"/><stop offset="1.0000" stop-color="#ead4c8"/></linearGradient><linearGradient id="c13" x1="0" y1="0" x2="1" y2="0"><stop offset="0.0000" stop-color="#d55042"/><stop offset="0.0625" stop-color="#d65244"/><stop offset="0.1250" stop-color="#d55042"/><stop offset="0.1875" stop-color="#d55042"/><stop offset="0.2500" stop-color="#d65244"/><stop offset="0.3125" stop-color="#da5a49"/><stop offset="0.3750" stop-color="#e0654f"/><stop offset="0.4375" stop-color="#e67259"/><stop offset="0.5000" stop-color="#eb7d62"/><stop offset="0.5625" stop-color="#ef886b"/><stop offset="0.6250" stop-color="#f39475"/><stop offset="0.6875" stop-color="#f59f80"/><stop offset="0.7500" stop-color="#f7aa8c"/><stop offset="0.8125" stop-color="#f7b599"/><stop offset="0.8750" stop-color="#f5c1a9"/><stop offset="0.9375" stop-color="#f1cdba"/><stop offset="1.0000" stop-color="#e8d6cc"/></linearGradient><linearGradient id="c14" x1="0" y1="0" x2="1" y2="0"><stop offset="0.0000" stop-color="#d44e41"/><stop offset="0.0625" stop-color="#d55042"/><stop offset="0.1250" stop-color="#d44e41"/><stop offset="0.1875" stop-color="#d24b40"/><stop offset="0.2500" stop-color="#d44e41"/><stop offset="0.3125" stop-color="#d85646"/><stop offset="0.3750" stop-color="#df634e"/><stop offset="0.4375" stop-color="#e46e56"/><stop offset="0.5000" stop-color="#e97a5f"/><stop offset="0.5625" stop-color="#ee8669"/><stop offset="0.6250" stop-color="#f29274"/><stop offset="0.6875" stop-color="#f59d7e"/><stop offset="0.7500" stop-color="#f7aa8c"/><stop offset="0.8125" stop-color="#f7b79b"/><stop offset="0.8750" stop-color="#f5c2aa"/><stop offset="0.9375" stop-color="#efcfbf"/><stop offset="1.0000" stop-color="#e3d9d3"/></linearGradient><linearGradient id="c15" x1="0" y1="0" x2="1" y2="0"><stop offset="0.0000" stop-color="#d1493f"/><stop offset="0.0625" stop-color="#d24b40"/><stop offset="0.1250" stop-color="#d24b40"/><stop offset="0.1875" stop-color="#d1493f"/><stop offset="0.2500" stop-color="#d24b40"/><stop offset="0.3125" stop-color="#d75445"/><stop offset="0.3750" stop-color="#dd5f4b"/><stop offset="0.4375" stop-color="#e36b54"/><stop offset="0.5000" stop-color="#e8765c"/><stop offset="0.5625" stop-color="#ed8366"/><stop offset="0.6250" stop-color="#f18f71"/><stop offset="0.6875" stop-color="#f59d7e"/><stop offset="0.7500" stop-color="#f7aa8c"/><stop offset="0.8125" stop-color="#f7b89c"/><stop offset="0.8750" stop-color="#f4c6af"/><stop offset="0.9375" stop-color="#ecd3c5"/><stop offset="1.0000" stop-color="#dddcdc"/></linearGradient><linearGradient id="c16" x1="0" y1="0" x2="1" y2="0"><stop offset="0.0000" stop-color="#d0473d"/><stop offset="0.0625" stop-color="#d1493f"/><stop offset="0.1250" stop-color="#d1493f"/><stop offset="0.1875" stop-color="#d0473d"/><stop offset="0.2500" stop-color="#d1493f"/><stop offset="0.3125" stop-color="#d55042"/><stop offset="0.3750" stop-color="#dc5d4a"/><stop offset="0.4375" stop-color="#e16751"/><stop offset="0.5000" stop-color="#e67259"/><stop offset="0.5625" stop-color="#ec7f63"/><stop offset="0.6250" stop-color="#f18d6f"/><stop offset="0.6875" stop-color="#f59c7d"/><stop offset="0.7500" stop-color="#f7ac8e"/><stop offset="0.8125" stop-color="#f7ba9f"/><stop offset="0.8750" stop-color="#f2c9b4"/><stop offset="0.9375" stop-color="#e9d5cb"/><stop offset="1.0000" stop-color="#d6dce4"/></linearGradient><linearGradient id="c17" x1="0" y1="0" x2="1" y2="0"><stop offset="0.0000" stop-color="#d0473d"/><stop offset="0.0625" stop-color="#d0473d"/><stop offset="0.1250" stop-color="#cf453c"/><stop offset="0.1875" stop-color="#cf453c"/><stop offset="0.2500" stop-color="#cf453c"/><stop offset="0.3125" stop-color="#d44e41"/><stop offset="0.3750" stop-color="#d95847"/><stop offset="0.4375" stop-color="#e0654f"/><stop offset="0.5000" stop-color="#e57058"/><stop offset="0.5625" stop-color="#eb7d62"/><stop offset="0.6250" stop-color="#f18d6f"/><stop offset="0.6875" stop-color="#f59d7e"/><stop offset="0.7500" stop-color="#f7ad90"/><stop offset="0.8125" stop-color="#f6bea4"/><stop offset="0.8750" stop-color="#f1cdba"/><stop offset="0.9375" stop-color="#e3d9d3"/><stop offset="1.0000" stop-color="#cedaeb"/></linearGradient><linearGradient id="c18" x1="0" y1="0" x2="1" y2="0"><stop offset="0.0000" stop-color="#cf453c"/><stop offset="0.0625" stop-color="#d0473d"/><stop offset="0.1250" stop-color="#cf453c"/><stop offset="0.1875" stop-color="#cd423b"/><stop offset="0.2500" stop-color="#cd423b"/><stop offset="0.3125" stop-color="#d24b40"/><stop offset="0.3750" stop-color="#d75445"/><stop offset="0.4375" stop-color="#de614d"/><stop offset="0.5000" stop-color="#e36c55"/><stop offset="0.5625" stop-color="#ea7b60"/><stop offset="0.6250" stop-color="#f08b6e"/><stop offset="0.6875" stop-color="#f59f80"/><stop offset="0.7500" stop-color="#f7b093"/><stop offset="0.8125" stop-color="#f5c1a9"/><stop offset="0.8750" stop-color="#edd1c2"/><stop offset="0.9375" stop-color="#dcdddd"/><stop offset="1.0000" stop-color="#c5d6f2"/></linearGradient><linearGradient id="c19" x1="0" y1="0" x2="1" y2="0"><stop offset="0.0000" stop-color="#cf453c"/><stop offset="0.0625" stop-color="#cf453c"/><stop offset="0.1250" stop-color="#cd423b"/><stop offset="0.1875" stop-color="#cc403a"/><stop offset="0.2500" stop-color="#cc403a"/><stop offset="0.3125" stop-color="#d0473d"/><stop offset="0.3750" stop-color="#d65244"/><stop offset="0.4375" stop-color="#dc5d4a"/><stop offset="0.5000" stop-color="#e26952"/><stop offset="0.5625" stop-color="#e97a5f"/><stop offset="0.6250" stop-color="#f18d6f"/><stop offset="0.6875" stop-color="#f5a081"/><stop offset="0.7500" stop-color="#f7b497"/><stop offset="0.8125" stop-color="#f4c6af"/><stop offset="0.8750" stop-color="#e9d5cb"/><stop offset="0.9375" stop-color="#d5dbe5"/><stop offset="1.0000" stop-color="#bbd1f8"/></linearGradient><linearGradient id="c20" x1="0" y1="0" x2="1" y2="0"><stop offset="0.0000" stop-color="#cf453c"/><stop offset="0.0625" stop-color="#cf453c"/><stop offset="0.1250" stop-color="#cd423b"/><stop offset="0.1875" stop-color="#cb3e38"/><stop offset="0.2500" stop-color="#cc403a"/><stop offset="0.3125" stop-color="#cf453c"/><stop offset="0.3750" stop-color="#d44e41"/><stop offset="0.4375" stop-color="#d95847"/><stop offset="0.5000" stop-color="#e16751"/><stop offset="0.5625" stop-color="#e97a5f"/><stop offset="0.6250" stop-color="#f18f71"/><stop offset="0.6875" stop-color="#f6a385"/><stop offset="0.7500" stop-color="#f7b89c"/><stop offset="0.8125" stop-color="#f2cbb7"/><stop offset="0.8750" stop-color="#e3d9d3"/><stop offset="0.9375" stop-color="#cdd9ec"/><stop offset="1.0000" stop-color="#b1cbfc"/></linearGradient><linearGradient id="c21" x1="0" y1="0" x2="1" y2="0"><stop offset="0.0000" stop-color="#d0473d"/><stop offset="0.0625" stop-color="#cf453c"/><stop offset="0.1250" stop-color="#cc403a"/><stop offset="0.1875" stop-color="#cb3e38"/><stop offset="0.2500" stop-color="#cb3e38"/><stop offset="0.3125" stop-color="#cd423b"/><stop offset="0.3750" stop-color="#d24b40"/><stop offset="0.4375" stop-color="#d85646"/><stop offset="0.5000" stop-color="#e16751"/><stop offset="0.5625" stop-color="#e97a5f"/><stop offset="0.6250" stop-color="#f29072"/><stop offset="0.6875" stop-color="#f7a889"/><stop offset="0.7500" stop-color="#f6bda2"/><stop offset="0.8125" stop-color="#efcfbf"/><stop offset="0.8750" stop-color="#dcdddd"/><stop offset="0.9375" stop-color="#c5d6f2"/><stop offset="1.0000" stop-color="#a7c5fe"/></linearGradient><linearGradient id="c22" x1="0" y1="0" x2="1" y2="0"><stop offset="0.0000" stop-color="#d0473d"/><stop offset="0.0625" stop-color="#cf453c"/><stop offset="0.1250" stop-color="#cc403a"/><stop offset="0.1875" stop-color="#cb3e38"/><stop offset="0.2500" stop-color="#cb3e38"/><stop offset="0.3125" stop-color="#cd423b"/><stop offset="0.3750" stop-color="#d1493f"/><stop offset="0.4375" stop-color="#d85646"/><stop offset="0.5000" stop-color="#e16751"/><stop offset="0.5625" stop-color="#eb7d62"/><stop offset="0.6250" stop-color="#f39577"/><stop offset="0.6875" stop-color="#f7ac8e"/><stop offset="0.7500" stop-color="#f5c1a9"/><stop offset="0.8125" stop-color="#ead4c8"/><stop offset="0.8750" stop-color="#d6dce4"/><stop offset="0.9375" stop-color="#bcd2f7"/><stop offset="1.0000" stop-color="#9fbfff"/></linearGradient><linearGradient id="c23" x1="0" y1="0" x2="1" y2="0"><stop offset="0.0000" stop-color="#d0473d"/><stop offset="0.0625" stop-color="#cf453c"/><stop offset="0.1250" stop-color="#cd423b"/><stop offset="0.1875" stop-color="#cb3e38"/><stop offset="0.2500" stop-color="#cb3e38"/><stop offset="0.3125" stop-color="#cd423b"/><stop offset="0.3750" stop-color="#d1493f"/><stop offset="0.4375" stop-color="#d85646"/><stop offset="0.5000" stop-color="#e26952"/><stop offset="0.5625" stop-color="#ec8165"/><stop offset="0.6250" stop-color="#f4987a"/><stop offset="0.6875" stop-color="#f7b194"/><stop offset="0.7500" stop-color="#f3c8b2"/><stop offset="0.8125" stop-color="#e5d8d1"/><stop offset="0.8750" stop-color="#cedaeb"/><stop offset="0.9375" stop-color="#b5cdfa"/><stop offset="1.0000" stop-color="#98b9ff"/></linearGradient><linearGradient id="c24" x1="0" y1="0" x2="1" y2="0"><stop offset="0.0000" stop-color="#d1493f"/><stop offset="0.0625" stop-color="#cf453c"/><stop offset="0.1250" stop-color="#cd423b"/><stop offset="0.1875" stop-color="#cc403a"/><stop offset="0.2500" stop-color="#cc403a"/><stop offset="0.3125" stop-color="#cd423b"/><stop offset="0.3750" stop-color="#d1493f"/><stop offset="0.4375" stop-color="#d95847"/><stop offset="0.5000" stop-color="#e36c55"/><stop offset="0.5625" stop-color="#ee8468"/><stop offset="0.6250" stop-color="#f59f80"/><stop offset="0.6875" stop-color="#f7b89c"/><stop offset="0.7500" stop-color="#f1cdba"/><stop offset="0.8125" stop-color="#dfdbd9"/><stop offset="0.8750" stop-color="#c7d7f0"/><stop offset="0.9375" stop-color="#aec9fc"/><stop offset="1.0000" stop-color="#93b5fe"/></linearGradient><linearGradient id="c25" x1="0" y1="0" x2="1" y2="0"><stop offset="0.0000" stop-color="#d24b40"/><stop offset="0.0625" stop-color="#d0473d"/><stop offset="0.1250" stop-color="#cf453c"/><stop offset="0.1875" stop-color="#cd423b"/><stop offset="0.2500" stop-color="#cd423b"/><stop offset="0.3125" stop-color="#cf453c"/><stop offset="0.3750" stop-color="#d24b40"/><stop offset="0.4375" stop-color="#dc5d4a"/><stop offset="0.5000" stop-color="#e67259"/><stop offset="0.5625" stop-color="#f08b6e"/><stop offset="0.6250" stop-color="#f6a586"/><stop offset="0.6875" stop-color="#f6bea4"/><stop offset="0.7500" stop-color="#ecd3c5"/><stop offset="0.8125" stop-color="#d8dce2"/><stop offset="0.8750" stop-color="#c0d4f5"/><stop offset="0.9375" stop-color="#a7c5fe"/><stop offset="1.0000" stop-color="#8fb1fe"/></linearGradient><linearGradient id="c26" x1="0" y1="0" x2="1" y2="0"><stop offset="0.0000" stop-color="#d44e41"/><stop offset="0.0625" stop-color="#d1493f"/><stop offset="0.1250" stop-color="#d0473d"/><stop offset="0.1875" stop-color="#cf453c"/><stop offset="0.2500" stop-color="#cf453c"/><stop offset="0.3125" stop-color="#d0473d"/><stop offset="0.3750" stop-color="#d55042"/><stop offset="0.4375" stop-color="#df634e"/><stop offset="0.5000" stop-color="#e97a5f"/><stop offset="0.5625" stop-color="#f29274"/><stop offset="0.6250" stop-color="#f7ac8e"/><stop offset="0.6875" stop-color="#f4c5ad"/><stop offset="0.7500" stop-color="#e7d7ce"/><stop offset="0.8125" stop-color="#d1dae9"/><stop offset="0.8750" stop-color="#b9d0f9"/><stop offset="0.9375" stop-color="#a1c0ff"/><stop offset="1.0000" stop-color="#8badfd"/></linearGradient><linearGradient id="c27" x1="0" y1="0" x2="1" y2="0"><stop offset="0.0000" stop-color="#d55042"/><stop offset="0.0625" stop-color="#d24b40"/><stop offset="0.1250" stop-color="#d1493f"/><stop offset="0.1875" stop-color="#d1493f"/><stop offset="0.2500" stop-color="#d1493f"/><stop offset="0.3125" stop-color="#d24b40"/><stop offset="0.3750" stop-color="#d75445"/><stop offset="0.4375" stop-color="#e26952"/><stop offset="0.5000" stop-color="#ec8165"/><stop offset="0.5625" stop-color="#f49a7b"/><stop offset="0.6250" stop-color="#f7b396"/><stop offset="0.6875" stop-color="#f2cbb7"/><stop offset="0.7500" stop-color="#e0dbd8"/><stop offset="0.8125" stop-color="#cad8ef"/><stop offset="0.8750" stop-color="#b2ccfb"/><stop offset="0.9375" stop-color="#9bbcff"/><stop offset="1.0000" stop-color="#88abfd"/></linearGradient><linearGradient id="c28" x1="0" y1="0" x2="1" y2="0"><stop offset="0.0000" stop-color="#d65244"/><stop offset="0.0625" stop-color="#d55042"/><stop offset="0.1250" stop-color="#d44e41"/><stop offset="0.1875" stop-color="#d44e41"/><stop offset="0.2500" stop-color="#d44e41"/><stop offset="0.3125" stop-color="#d55042"/><stop offset="0.3750" stop-color="#dc5d4a"/><stop offset="0.4375" stop-color="#e57058"/><stop offset="0.5000" stop-color="#f08a6c"/><stop offset="0.5625" stop-color="#f6a385"/><stop offset="0.6250" stop-color="#f7bca1"/><stop offset="0.6875" stop-color="#edd1c2"/><stop offset="0.7500" stop-color="#d9dce1"/><stop offset="0.8125" stop-color="#c1d4f4"/><stop offset="0.8750" stop-color="#abc8fd"/><stop offset="0.9375" stop-color="#97b8ff"/><stop offset="1.0000" stop-color="#85a8fc"/></linearGradient><linearGradient id="c29" x1="0" y1="0" x2="1" y2="0"><stop offset="0.0000" stop-color="#d85646"/><stop offset="0.0625" stop-color="#d75445"/><stop offset="0.1250" stop-color="#d65244"/><stop offset="0.1875" stop-color="#d65244"/><stop offset="0.2500" stop-color="#d75445"/><stop offset="0.3125" stop-color="#d95847"/><stop offset="0.3750" stop-color="#e0654f"/><stop offset="0.4375" stop-color="#e97a5f"/><stop offset="0.5000" stop-color="#f39475"/><stop offset="0.5625" stop-color="#f7ac8e"/><stop offset="0.6250" stop-color="#f5c4ac"/><stop offset="0.6875" stop-color="#e8d6cc"/><stop offset="0.7500" stop-color="#d2dbe8"/><stop offset="0.8125" stop-color="#bad0f8"/><stop offset="0.8750" stop-color="#a5c3fe"/><stop offset="0.9375" stop-color="#92b4fe"/><stop offset="1.0000" stop-color="#82a6fb"/></linearGradient><linearGradient id="c30" x1="0" y1="0" x2="1" y2="0"><stop offset="0.0000" stop-color="#da5a49"/><stop offset="0.0625" stop-color="#d95847"/><stop offset="0.1250" stop-color="#d95847"/><stop offset="0.1875" stop-color="#d85646"/><stop offset="0.2500" stop-color="#da5a49"/><stop offset="0.3125" stop-color="#de614d"/><stop offset="0.3750" stop-color="#e46e56"/><stop offset="0.4375" stop-color="#ee8468"/><stop offset="0.5000" stop-color="#f59d7e"/><stop offset="0.5625" stop-color="#f7b599"/><stop offset="0.6250" stop-color="#f2cbb7"/><stop offset="0.6875" stop-color="#e0dbd8"/><stop offset="0.7500" stop-color="#cad8ef"/><stop offset="0.8125" stop-color="#b3cdfb"/><stop offset="0.8750" stop-color="#9ebeff"/><stop offset="0.9375" stop-color="#8db0fe"/><stop offset="1.0000" stop-color="#80a3fa"/></linearGradient><linearGradient id="c31" x1="0" y1="0" x2="1" y2="0"><stop offset="0.0000" stop-color="#dd5f4b"/><stop offset="0.0625" stop-color="#dd5f4b"/><stop offset="0.1250" stop-color="#dc5d4a"/><stop offset="0.1875" stop-color="#dc5d4a"/><stop offset="0.2500" stop-color="#de614d"/><stop offset="0.3125" stop-color="#e26952"/><stop offset="0.3750" stop-color="#e9785d"/><stop offset="0.4375" stop-color="#f18f71"/><stop offset="0.5000" stop-color="#f7a889"/><stop offset="0.5625" stop-color="#f6bfa6"/><stop offset="0.6250" stop-color="#edd2c3"/><stop offset="0.6875" stop-color="#d9dce1"/><stop offset="0.7500" stop-color="#c3d5f4"/><stop offset="0.8125" stop-color="#abc8fd"/><stop offset="0.8750" stop-color="#98b9ff"/><stop offset="0.9375" stop-color="#88abfd"/><stop offset="1.0000" stop-color="#7da0f9"/></linearGradient><linearGradient id="c32" x1="0" y1="0" x2="1" y2="0"><stop offset="0.0000" stop-color="#df634e"/><stop offset="0.0625" stop-color="#df634e"/><stop offset="0.1250" stop-color="#df634e"/><stop offset="0.1875" stop-color="#e0654f"/><stop offset="0.2500" stop-color="#e26952"/><stop offset="0.3125" stop-color="#e7745b"/><stop offset="0.3750" stop-color="#ee8468"/><stop offset="0.4375" stop-color="#f49a7b"/><stop offset="0.5000" stop-color="#f7b194"/><stop offset="0.5625" stop-color="#f3c7b1"/><stop offset="0.6250" stop-color="#e6d7cf"/><stop offset="0.6875" stop-color="#d1dae9"/><stop offset="0.7500" stop-color="#bad0f8"/><stop offset="0.8125" stop-color="#a5c3fe"/><stop offset="0.8750" stop-color="#93b5fe"/><stop offset="0.9375" stop-color="#85a8fc"/><stop offset="1.0000" stop-color="#7a9df8"/></linearGradient><linearGradient id="c33" x1="0" y1="0" x2="1" y2="0"><stop offset="0.0000" stop-color="#e16751"/><stop offset="0.0625" stop-color="#e26952"/><stop offset="0.1250" stop-color="#e26952"/><stop offset="0.1875" stop-color="#e36b54"/><stop offset="0.2500" stop-color="#e67259"/><stop offset="0.3125" stop-color="#eb7d62"/><stop offset="0.3750" stop-color="#f18f71"/><stop offset="0.4375" stop-color="#f6a586"/><stop offset="0.5000" stop-color="#f7bca1"/><stop offset="0.5625" stop-color="#efcebd"/><stop offset="0.6250" stop-color="#dedcdb"/><stop offset="0.6875" stop-color="#c9d7f0"/><stop offset="0.7500" stop-color="#b3cdfb"/><stop offset="0.8125" stop-color="#9fbfff"/><stop offset="0.8750" stop-color="#8fb1fe"/><stop offset="0.9375" stop-color="#82a6fb"/><stop offset="1.0000" stop-color="#799cf8"/></linearGradient><linearGradient id="c34" x1="0" y1="0" x2="1" y2="0"><stop offset="0.0000" stop-color="#e26952"/><stop offset="0.0625" stop-color="#e36c55"/><stop offset="0.1250" stop-color="#e46e56"/><stop offset="0.1875" stop-color="#e67259"/><stop offset="0.2500" stop-color="#ea7b60"/><stop offset="0.3125" stop-color="#ef886b"/><stop offset="0.3750" stop-color="#f59c7d"/><stop offset="0.4375" stop-color="#f7b093"/><stop offset="0.5000" stop-color="#f4c5ad"/><stop offset="0.5625" stop-color="#e9d5cb"/><stop offset="0.6250" stop-color="#d6dce4"/><stop offset="0.6875" stop-color="#c1d4f4"/><stop offset="0.7500" stop-color="#adc9fd"/><stop offset="0.8125" stop-color="#9abbff"/><stop offset="0.8750" stop-color="#8badfd"/><stop offset="0.9375" stop-color="#80a3fa"/><stop offset="1.0000" stop-color="#779af7"/></linearGradient><linearGradient id="c35" x1="0" y1="0" x2="1" y2="0"><stop offset="0.0000" stop-color="#e36b54"/><stop offset="0.0625" stop-color="#e57058"/><stop offset="0.1250" stop-color="#e8765c"/><stop offset="0.1875" stop-color="#ea7b60"/><stop offset="0.2500" stop-color="#ee8468"/><stop offset="0.3125" stop-color="#f39475"/><stop offset="0.3750" stop-color="#f7a688"/><stop offset="0.4375" stop-color="#f7ba9f"/><stop offset="0.5000" stop-color="#f1cdba"/><stop offset="0.5625" stop-color="#e1dad6"/><stop offset="0.6250" stop-color="#cedaeb"/><stop offset="0.6875" stop-color="#bad0f8"/><stop offset="0.7500" stop-color="#a6c4fe"/><stop offset="0.8125" stop-color="#96b7ff"/><stop offset="0.8750" stop-color="#88abfd"/><stop offset="0.9375" stop-color="#7ea1fa"/><stop offset="1.0000" stop-color="#7699f6"/></linearGradient><linearGradient id="c36" x1="0" y1="0" x2="1" y2="0"><stop offset="0.0000" stop-color="#e36c55"/><stop offset="0.0625" stop-color="#e8765c"/><stop offset="0.1250" stop-color="#eb7d62"/><stop offset="0.1875" stop-color="#ee8468"/><stop offset="0.2500" stop-color="#f29072"/><stop offset="0.3125" stop-color="#f59f80"/><stop offset="0.3750" stop-color="#f7b194"/><stop offset="0.4375" stop-color="#f4c5ad"/><stop offset="0.5000" stop-color="#ead4c8"/><stop offset="0.5625" stop-color="#d9dce1"/><stop offset="0.6250" stop-color="#c6d6f1"/><stop offset="0.6875" stop-color="#b3cdfb"/><stop offset="0.7500" stop-color="#a1c0ff"/><stop offset="0.8125" stop-color="#92b4fe"/><stop offset="0.8750" stop-color="#85a8fc"/><stop offset="0.9375" stop-color="#7da0f9"/><stop offset="1.0000" stop-color="#7699f6"/></linearGradient><linearGradient id="c37" x1="0" y1="0" x2="1" y2="0"><stop offset="0.0000" stop-color="#e67259"/><stop offset="0.0625" stop-color="#eb7d62"/><stop offset="0.1250" stop-color="#ef886b"/><stop offset="0.1875" stop-color="#f29072"/><stop offset="0.2500" stop-color="#f59c7d"/><stop offset="0.3125" stop-color="#f7aa8c"/><stop offset="0.3750" stop-color="#f6bda2"/><stop offset="0.4375" stop-color="#f0cdbb"/><stop offset="0.5000" stop-color="#e2dad5"/><stop offset="0.5625" stop-color="#d2dbe8"/><stop offset="0.6250" stop-color="#bfd3f6"/><stop offset="0.6875" stop-color="#adc9fd"/><stop offset="0.7500" stop-color="#9bbcff"/><stop offset="0.8125" stop-color="#8fb1fe"/><stop offset="0.8750" stop-color="#84a7fc"/><stop offset="0.9375" stop-color="#7da0f9"/><stop offset="1.0000" stop-color="#7699f6"/></linearGradient><linearGradient id="c38" x1="0" y1="0" x2="1" y2="0"><stop offset="0.0000" stop-color="#ea7b60"/><stop offset="0.0625" stop-color="#f08a6c"/><stop offset="0.1250" stop-color="#f39475"/><stop offset="0.1875" stop-color="#f59d7e"/><stop offset="0.2500" stop-color="#f7a98b"/><stop offset="0.3125" stop-color="#f7b79b"/><stop offset="0.3750" stop-color="#f3c7b1"/><stop offset="0.4375" stop-color="#ead5c9"/><stop offset="0.5000" stop-color="#d9dce1"/><stop offset="0.5625" stop-color="#c9d7f0"/><stop offset="0.6250" stop-color="#b7cff9"/><stop offset="0.6875" stop-color="#a6c4fe"/><stop offset="0.7500" stop-color="#98b9ff"/><stop offset="0.8125" stop-color="#8caffe"/><stop offset="0.8750" stop-color="#82a6fb"/><stop offset="0.9375" stop-color="#7b9ff9"/><stop offset="1.0000" stop-color="#779af7"/></linearGradient><linearGradient id="c39" x1="0" y1="0" x2="1" y2="0"><stop offset="0.0000" stop-color="#f08a6c"/><stop offset="0.0625" stop-color="#f39778"/><stop offset="0.1250" stop-color="#f6a283"/><stop offset="0.1875" stop-color="#f7ac8e"/><stop offset="0.2500" stop-color="#f7b89c"/><stop offset="0.3125" stop-color="#f5c4ac"/><stop offset="0.3750" stop-color="#eed0c0"/><stop offset="0.4375" stop-color="#e1dad6"/><stop offset="0.5000" stop-color="#d1dae9"/><stop offset="0.5625" stop-color="#c0d4f5"/><stop offset="0.6250" stop-color="#b1cbfc"/><stop offset="0.6875" stop-color="#a2c1ff"/><stop offset="0.7500" stop-color="#94b6ff"/><stop offset="0.8125" stop-color="#8badfd"/><stop offset="0.8750" stop-color="#82a6fb"/><stop offset="0.9375" stop-color="#7da0f9"/><stop offset="1.0000" stop-color="#779af7"/></linearGradient><linearGradient id="c40" x1="0" y1="0" x2="1" y2="0"><stop offset="0.0000" stop-color="#f59d7e"/><stop offset="0.0625" stop-color="#f7a98b"/><stop offset="0.1250" stop-color="#f7b396"/><stop offset="0.1875" stop-color="#f6bda2"/><stop offset="0.2500" stop-color="#f4c6af"/><stop offset="0.3125" stop-color="#efcfbf"/><stop offset="0.3750" stop-color="#e5d8d1"/><stop offset="0.4375" stop-color="#d7dce3"/><stop offset="0.5000" stop-color="#c7d7f0"/><stop offset="0.5625" stop-color="#b9d0f9"/><stop offset="0.6250" stop-color="#aac7fd"/><stop offset="0.6875" stop-color="#9dbdff"/><stop offset="0.7500" stop-color="#92b4fe"/><stop offset="0.8125" stop-color="#88abfd"/><stop offset="0.8750" stop-color="#82a6fb"/><stop offset="0.9375" stop-color="#7da0f9"/><stop offset="1.0000" stop-color="#799cf8"/></linearGradient><linearGradient id="c41" x1="0" y1="0" x2="1" y2="0"><stop offset="0.0000" stop-color="#f7b194"/><stop offset="0.0625" stop-color="#f7bca1"/><stop offset="0.1250" stop-color="#f4c5ad"/><stop offset="0.1875" stop-color="#f1ccb8"/><stop offset="0.2500" stop-color="#ecd3c5"/><stop offset="0.3125" stop-color="#e4d9d2"/><stop offset="0.3750" stop-color="#dadce0"/><stop offset="0.4375" stop-color="#cdd9ec"/><stop offset="0.5000" stop-color="#bfd3f6"/><stop offset="0.5625" stop-color="#b1cbfc"/><stop offset="0.6250" stop-color="#a5c3fe"/><stop offset="0.6875" stop-color="#9abbff"/><stop offset="0.7500" stop-color="#8fb1fe"/><stop offset="0.8125" stop-color="#88abfd"/><stop offset="0.8750" stop-color="#81a4fb"/><stop offset="0.9375" stop-color="#7da0f9"/><stop offset="1.0000" stop-color="#799cf8"/></linearGradient><linearGradient id="c42" x1="0" y1="0" x2="1" y2="0"><stop offset="0.0000" stop-color="#f4c6af"/><stop offset="0.0625" stop-color="#f0cdbb"/><stop offset="0.1250" stop-color="#ebd3c6"/><stop offset="0.1875" stop-color="#e6d7cf"/><stop offset="0.2500" stop-color="#dfdbd9"/><stop offset="0.3125" stop-color="#d7dce3"/><stop offset="0.3750" stop-color="#cdd9ec"/><stop offset="0.4375" stop-color="#c1d4f4"/><stop offset="0.5000" stop-color="#b5cdfa"/><stop offset="0.5625" stop-color="#aac7fd"/><stop offset="0.6250" stop-color="#9fbfff"/><stop offset="0.6875" stop-color="#96b7ff"/><stop offset="0.7500" stop-color="#8db0fe"/><stop offset="0.8125" stop-color="#86a9fc"/><stop offset="0.8750" stop-color="#82a6fb"/><stop offset="0.9375" stop-color="#7da0f9"/><stop offset="1.0000" stop-color="#799cf8"/></linearGradient><linearGradient id="c43" x1="0" y1="0" x2="1" y2="0"><stop offset="0.0000" stop-color="#e9d5cb"/><stop offset="0.0625" stop-color="#e2dad5"/><stop offset="0.1250" stop-color="#dcdddd"/><stop offset="0.1875" stop-color="#d6dce4"/><stop offset="0.2500" stop-color="#cfdaea"/><stop offset="0.3125" stop-color="#c7d7f0"/><stop offset="0.3750" stop-color="#bfd3f6"/><stop offset="0.4375" stop-color="#b6cefa"/><stop offset="0.5000" stop-color="#adc9fd"/><stop offset="0.5625" stop-color="#a3c2fe"/><stop offset="0.6250" stop-color="#9bbcff"/><stop offset="0.6875" stop-color="#93b5fe"/><stop offset="0.7500" stop-color="#8caffe"/><stop offset="0.8125" stop-color="#86a9fc"/><stop offset="0.8750" stop-color="#82a6fb"/><stop offset="0.9375" stop-color="#7ea1fa"/><stop offset="1.0000" stop-color="#7a9df8"/></linearGradient><linearGradient id="c44" x1="0" y1="0" x2="1" y2="0"><stop offset="0.0000" stop-color="#d7dce3"/><stop offset="0.0625" stop-color="#cfdaea"/><stop offset="0.1250" stop-color="#cad8ef"/><stop offset="0.1875" stop-color="#c4d5f3"/><stop offset="0.2500" stop-color="#bed2f6"/><stop offset="0.3125" stop-color="#b7cff9"/><stop offset="0.3750" stop-color="#b1cbfc"/><stop offset="0.4375" stop-color="#aac7fd"/><stop offset="0.5000" stop-color="#a5c3fe"/><stop offset="0.5625" stop-color="#9ebeff"/><stop offset="0.6250" stop-color="#97b8ff"/><stop offset="0.6875" stop-color="#90b2fe"/><stop offset="0.7500" stop-color="#8badfd"/><stop offset="0.8125" stop-color="#85a8fc"/><stop offset="0.8750" stop-color="#82a6fb"/><stop offset="0.9375" stop-color="#7ea1fa"/><stop offset="1.0000" stop-color="#7a9df8"/></linearGradient><linearGradient id="c45" x1="0" y1="0" x2="1" y2="0"><stop offset="0.0000" stop-color="#c3d5f4"/><stop offset="0.0625" stop-color="#bcd2f7"/><stop offset="0.1250" stop-color="#b6cefa"/><stop offset="0.1875" stop-color="#b2ccfb"/><stop offset="0.2500" stop-color="#adc9fd"/><stop offset="0.3125" stop-color="#a7c5fe"/><stop offset="0.3750" stop-color="#a3c2fe"/><stop offset="0.4375" stop-color="#a1c0ff"/><stop offset="0.5000" stop-color="#9dbdff"/><stop offset="0.5625" stop-color="#98b9ff"/><stop offset="0.6250" stop-color="#93b5fe"/><stop offset="0.6875" stop-color="#8db0fe"/><stop offset="0.7500" stop-color="#89acfd"/><stop offset="0.8125" stop-color="#85a8fc"/><stop offset="0.8750" stop-color="#82a6fb"/><stop offset="0.9375" stop-color="#80a3fa"/><stop offset="1.0000" stop-color="#7b9ff9"/></linearGradient><linearGradient id="c46" x1="0" y1="0" x2="1" y2="0"><stop offset="0.0000" stop-color="#aec9fc"/><stop offset="0.0625" stop-color="#a7c5fe"/><stop offset="0.1250" stop-color="#a3c2fe"/><stop offset="0.1875" stop-color="#9fbfff"/><stop offset="0.2500" stop-color="#9dbdff"/><stop offset="0.3125" stop-color="#98b9ff"/><stop offset="0.3750" stop-color="#97b8ff"/><stop offset="0.4375" stop-color="#97b8ff"/><stop offset="0.5000" stop-color="#97b8ff"/><stop offset="0.5625" stop-color="#94b6ff"/><stop offset="0.6250" stop-color="#90b2fe"/><stop offset="0.6875" stop-color="#8caffe"/><stop offset="0.7500" stop-color="#88abfd"/><stop offset="0.8125" stop-color="#85a8fc"/><stop offset="0.8750" stop-color="#82a6fb"/><stop offset="0.9375" stop-color="#80a3fa"/><stop offset="1.0000" stop-color="#7b9ff9"/></linearGradient><linearGradient id="c47" x1="0" y1="0" x2="1" y2="0"><stop offset="0.0000" stop-color="#9abbff"/><stop offset="0.0625" stop-color="#96b7ff"/><stop offset="0.1250" stop-color="#93b5fe"/><stop offset="0.1875" stop-color="#90b2fe"/><stop offset="0.2500" stop-color="#8fb1fe"/><stop offset="0.3125" stop-color="#8db0fe"/><stop offset="0.3750" stop-color="#8caffe"/><stop offset="0.4375" stop-color="#8fb1fe"/><stop offset="0.5000" stop-color="#90b2fe"/><stop offset="0.5625" stop-color="#8fb1fe"/><stop offset="0.6250" stop-color="#8caffe"/><stop offset="0.6875" stop-color="#89acfd"/><stop offset="0.7500" stop-color="#86a9fc"/><stop offset="0.8125" stop-color="#84a7fc"/><stop offset="0.8750" stop-color="#82a6fb"/><stop offset="0.9375" stop-color="#80a3fa"/><stop offset="1.0000" stop-color="#7da0f9"/></linearGradient><linearGradient id="c48" x1="0" y1="0" x2="1" y2="0"><stop offset="0.0000" stop-color="#8badfd"/><stop offset="0.0625" stop-color="#88abfd"/><stop offset="0.1250" stop-color="#85a8fc"/><stop offset="0.1875" stop-color="#85a8fc"/><stop offset="0.2500" stop-color="#85a8fc"/><stop offset="0.3125" stop-color="#84a7fc"/><stop offset="0.3750" stop-color="#85a8fc"/><stop offset="0.4375" stop-color="#88abfd"/><stop offset="0.5000" stop-color="#8badfd"/><stop offset="0.5625" stop-color="#8caffe"/><stop offset="0.6250" stop-color="#89acfd"/><stop offset="0.6875" stop-color="#86a9fc"/><stop offset="0.7500" stop-color="#85a8fc"/><stop offset="0.8125" stop-color="#82a6fb"/><stop offset="0.8750" stop-color="#81a4fb"/><stop offset="0.9375" stop-color="#80a3fa"/><stop offset="1.0000" stop-color="#7da0f9"/></linearGradient><linearGradient id="c49" x1="0" y1="0" x2="1" y2="0"><stop offset="0.0000" stop-color="#81a4fb"/><stop offset="0.0625" stop-color="#7ea1fa"/><stop offset="0.1250" stop-color="#7ea1fa"/><stop offset="0.1875" stop-color="#80a3fa"/><stop offset="0.2500" stop-color="#80a3fa"/><stop offset="0.3125" stop-color="#80a3fa"/><stop offset="0.3750" stop-color="#81a4fb"/><stop offset="0.4375" stop-color="#84a7fc"/><stop offset="0.5000" stop-color="#86a9fc"/><stop offset="0.5625" stop-color="#88abfd"/><stop offset="0.6250" stop-color="#86a9fc"/><stop offset="0.6875" stop-color="#85a8fc"/><stop offset="0.7500" stop-color="#82a6fb"/><stop offset="0.8125" stop-color="#81a4fb"/><stop offset="0.8750" stop-color="#81a4fb"/><stop offset="0.9375" stop-color="#80a3fa"/><stop offset="1.0000" stop-color="#7ea1fa"/></linearGradient><linearGradient id="c50" x1="0" y1="0" x2="1" y2="0"><stop offset="0.0000" stop-color="#7da0f9"/><stop offset="0.0625" stop-color="#7b9ff9"/><stop offset="0.1250" stop-color="#7da0f9"/><stop offset="0.1875" stop-color="#7ea1fa"/><stop offset="0.2500" stop-color="#80a3fa"/><stop offset="0.3125" stop-color="#80a3fa"/><stop offset="0.3750" stop-color="#81a4fb"/><stop offset="0.4375" stop-color="#82a6fb"/><stop offset="0.5000" stop-color="#84a7fc"/><stop offset="0.5625" stop-color="#84a7fc"/><stop offset="0.6250" stop-color="#84a7fc"/><stop offset="0.6875" stop-color="#82a6fb"/><stop offset="0.7500" stop-color="#80a3fa"/><stop offset="0.8125" stop-color="#80a3fa"/><stop offset="0.8750" stop-color="#80a3fa"/><stop offset="0.9375" stop-color="#80a3fa"/><stop offset="1.0000" stop-color="#7ea1fa"/></linearGradient><clipPath id="cc"><rect x="262.40" y="130.30" width="112.90" height="101.10"/></clipPath><filter id="vb" x="-0.05" y="-0.05" width="1.1" height="1.1"><feGaussianBlur stdDeviation="0 1.2"/></filter></defs>
<rect x="94.00" y="8.60" width="135.20" height="223.60" fill="#4b4b4b"/>
<rect x="139.07" y="8.60" width="22.53" height="22.36" fill="#1a1210"/>
<rect x="139.57" y="9.10" width="21.53" height="21.36" fill="#f7dccb"/>
<rect x="141.12" y="10.65" width="18.43" height="18.26" fill="#5a5048"/>
<rect x="141.12" y="10.65" width="18.43" height="18.26" rx="2.6" fill="#999" filter="url(#n0_2)"/>
<rect x="161.60" y="8.60" width="22.53" height="22.36" fill="#1a1210"/>
<rect x="162.10" y="9.10" width="21.53" height="21.36" fill="#f4b99d"/>
<rect x="163.65" y="10.65" width="18.43" height="18.26" fill="#5a5048"/>
<rect x="163.65" y="10.65" width="18.43" height="18.26" rx="2.6" fill="#999" filter="url(#n0_3)"/>
<rect x="184.13" y="8.60" width="22.53" height="22.36" fill="#1a1210"/>
<rect x="184.63" y="9.10" width="21.53" height="21.36" fill="#6f9bf0"/>
<rect x="186.18" y="10.65" width="18.43" height="18.26" fill="#5a5048"/>
<rect x="186.18" y="10.65" width="18.43" height="18.26" rx="3.0" fill="#999" filter="url(#n0_4)"/>
<rect x="186.18" y="10.65" width="18.43" height="18.26" rx="3.0" fill="url(#vig)"/>
<rect x="206.67" y="8.60" width="22.53" height="22.36" fill="#1a1210"/>
<rect x="207.17" y="9.10" width="21.53" height="21.36" fill="#f2a283"/>
<rect x="208.72" y="10.65" width="18.43" height="18.26" fill="#5a5048"/>
<rect x="208.72" y="10.65" width="18.43" height="18.26" rx="3.0" fill="#999" filter="url(#n0_5)"/>
<rect x="208.72" y="10.65" width="18.43" height="18.26" rx="3.0" fill="url(#vig)"/>
<rect x="139.07" y="30.96" width="22.53" height="22.36" fill="#1a1210"/>
<rect x="139.57" y="31.46" width="21.53" height="21.36" fill="#f6d0b9"/>
<rect x="141.12" y="33.01" width="18.43" height="18.26" fill="#5a5048"/>
<rect x="141.12" y="33.01" width="18.43" height="18.26" rx="2.6" fill="#999" filter="url(#n1_2)"/>
<rect x="161.60" y="30.96" width="22.53" height="22.36" fill="#1a1210"/>
<rect x="162.10" y="31.46" width="21.53" height="21.36" fill="#f2b193"/>
<rect x="163.65" y="33.01" width="18.43" height="18.26" fill="#5a5048"/>
<rect x="163.65" y="33.01" width="18.43" height="18.26" rx="2.6" fill="#999" filter="url(#n1_3)"/>
<rect x="184.13" y="30.96" width="22.53" height="22.36" fill="#1a1210"/>
<rect x="184.63" y="31.46" width="21.53" height="21.36" fill="#f1a687"/>
<rect x="186.18" y="33.01" width="18.43" height="18.26" fill="#5a5048"/>
<rect x="186.18" y="33.01" width="18.43" height="18.26" rx="3.0" fill="#999" filter="url(#n1_4)"/>
<rect x="186.18" y="33.01" width="18.43" height="18.26" rx="3.0" fill="url(#vig)"/>
<rect x="206.67" y="30.96" width="22.53" height="22.36" fill="#1a1210"/>
<rect x="207.17" y="31.46" width="21.53" height="21.36" fill="#e6eaf3"/>
<rect x="208.72" y="33.01" width="18.43" height="18.26" fill="#5a5048"/>
<rect x="208.72" y="33.01" width="18.43" height="18.26" rx="2.6" fill="#999" filter="url(#n1_5)"/>
<rect x="139.07" y="53.32" width="22.53" height="22.36" fill="#1a1210"/>
<rect x="139.57" y="53.82" width="21.53" height="21.36" fill="#fbdcc8"/>
<rect x="141.12" y="55.37" width="18.43" height="18.26" fill="#5a5048"/>
<rect x="141.12" y="55.37" width="18.43" height="18.26" rx="2.6" fill="#999" filter="url(#n2_2)"/>
<rect x="161.60" y="53.32" width="22.53" height="22.36" fill="#1a1210"/>
<rect x="162.10" y="53.82" width="21.53" height="21.36" fill="#e96a4b"/>
<rect x="163.65" y="55.37" width="18.43" height="18.26" fill="#5a5048"/>
<rect x="163.65" y="55.37" width="18.43" height="18.26" rx="2.6" fill="#999" filter="url(#n2_3)"/>
<rect x="184.13" y="53.32" width="22.53" height="22.36" fill="#1a1210"/>
<rect x="184.63" y="53.82" width="21.53" height="21.36" fill="#ee6e4e"/>
<rect x="186.18" y="55.37" width="18.43" height="18.26" fill="#5a5048"/>
<rect x="186.18" y="55.37" width="18.43" height="18.26" rx="3.0" fill="#999" filter="url(#n2_4)"/>
<rect x="186.18" y="55.37" width="18.43" height="18.26" rx="3.0" fill="url(#vig)"/>
<rect x="186.18" y="55.37" width="18.43" height="18.26" rx="3.0" fill="url(#lg85)"/>
<ellipse cx="201.33" cy="68.52" rx="1.8" ry="0.9" transform="rotate(35 201.33 68.52)" fill="#111"/>
<rect x="206.67" y="53.32" width="22.53" height="22.36" fill="#1a1210"/>
<rect x="207.17" y="53.82" width="21.53" height="21.36" fill="#a8c4f8"/>
<rect x="208.72" y="55.37" width="18.43" height="18.26" fill="#5a5048"/>
<rect x="208.72" y="55.37" width="18.43" height="18.26" rx="2.6" fill="#999" filter="url(#n2_5)"/>
<rect x="139.07" y="75.68" width="22.53" height="22.36" fill="#1a1210"/>
<rect x="139.57" y="76.18" width="21.53" height="21.36" fill="#f07c58"/>
<rect x="141.12" y="77.73" width="18.43" height="18.26" fill="#5a5048"/>
<rect x="141.12" y="77.73" width="18.43" height="18.26" rx="2.6" fill="#999" filter="url(#n3_2)"/>
<rect x="161.60" y="75.68" width="22.53" height="22.36" fill="#1a1210"/>
<rect x="162.10" y="76.18" width="21.53" height="21.36" fill="#f29878"/>
<rect x="163.65" y="77.73" width="18.43" height="18.26" fill="#5a5048"/>
<rect x="163.65" y="77.73" width="18.43" height="18.26" rx="2.6" fill="#999" filter="url(#n3_3)"/>
<rect x="184.13" y="75.68" width="22.53" height="22.36" fill="#1a1210"/>
<rect x="184.63" y="76.18" width="21.53" height="21.36" fill="#ee7050"/>
<rect x="186.18" y="77.73" width="18.43" height="18.26" fill="#5a5048"/>
<rect x="186.18" y="77.73" width="18.43" height="18.26" rx="3.0" fill="#999" filter="url(#n3_4)"/>
<rect x="186.18" y="77.73" width="18.43" height="18.26" rx="3.0" fill="url(#vig)"/>
<rect x="206.67" y="75.68" width="22.53" height="22.36" fill="#1a1210"/>
<rect x="207.17" y="76.18" width="21.53" height="21.36" fill="#b5cdf8"/>
<rect x="208.72" y="77.73" width="18.43" height="18.26" fill="#5a5048"/>
<rect x="208.72" y="77.73" width="18.43" height="18.26" rx="3.0" fill="#999" filter="url(#n3_5)"/>
<rect x="208.72" y="77.73" width="18.43" height="18.26" rx="3.0" fill="url(#vig)"/>
<rect x="116.53" y="98.04" width="22.53" height="22.36" fill="#111"/>
<rect x="117.33" y="98.84" width="20.93" height="20.76" fill="#464646"/>
<rect x="118.83" y="100.34" width="17.93" height="17.76" rx="5.8" fill="#777" filter="url(#n4_1)"/>
<rect x="118.83" y="100.34" width="17.93" height="17.76" rx="5.8" fill="none" stroke="#464646" stroke-opacity="0.5" stroke-width="1.2"/>
<g transform="translate(127.80 109.22) scale(1.14) translate(-127.80 -109.22)">
<path d="M127.40 103.02 c3.6 -0.4 6.4 2.2 6.3 5.6 c0.9 1.2 0.6 2.6 -0.4 3.2 c-0.6 2.6 -3.2 4.2 -6.2 3.8 c-3.6 -0.3 -6 -3 -5.8 -6.4 c0.1 -3.4 2.6 -6 6.1 -6.2z" fill="#1f1f1f"/>
<ellipse cx="129.40" cy="110.42" rx="1.3" ry="2.2" fill="#5a5a5a" opacity="0.7"/>
<ellipse cx="126.20" cy="106.62" rx="1.6" ry="1.0" fill="#484848" opacity="0.7"/>
</g>
<rect x="139.07" y="98.04" width="22.53" height="22.36" fill="#1a1210"/>
<rect x="139.57" y="98.54" width="21.53" height="21.36" fill="#c8102a"/>
<rect x="141.12" y="100.09" width="18.43" height="18.26" fill="#5a5048"/>
<rect x="141.12" y="100.09" width="18.43" height="18.26" rx="3.2" fill="#999" filter="url(#n4_2)"/>
<rect x="161.60" y="98.04" width="22.53" height="22.36" fill="#1a1210"/>
<rect x="162.10" y="98.54" width="21.53" height="21.36" fill="#f5a585"/>
<rect x="163.65" y="100.09" width="18.43" height="18.26" fill="#5a5048"/>
<rect x="163.65" y="100.09" width="18.43" height="18.26" rx="2.6" fill="#999" filter="url(#n4_3)"/>
<rect x="184.13" y="98.04" width="22.53" height="22.36" fill="#1a1210"/>
<rect x="184.63" y="98.54" width="21.53" height="21.36" fill="#f8dccb"/>
<rect x="186.18" y="100.09" width="18.43" height="18.26" fill="#5a5048"/>
<rect x="186.18" y="100.09" width="18.43" height="18.26" rx="3.0" fill="#999" filter="url(#n4_4)"/>
<rect x="186.18" y="100.09" width="18.43" height="18.26" rx="3.0" fill="url(#vig)"/>
<rect x="206.67" y="98.04" width="22.53" height="22.36" fill="#1a1210"/>
<rect x="207.17" y="98.54" width="21.53" height="21.36" fill="#b4ccf7"/>
<rect x="208.72" y="100.09" width="18.43" height="18.26" fill="#5a5048"/>
<rect x="208.72" y="100.09" width="18.43" height="18.26" rx="3.0" fill="#999" filter="url(#n4_5)"/>
<rect x="208.72" y="100.09" width="18.43" height="18.26" rx="3.0" fill="url(#vig)"/>
<rect x="116.53" y="120.40" width="22.53" height="22.36" fill="#111"/>
<rect x="117.33" y="121.20" width="20.93" height="20.76" fill="#464646"/>
<rect x="118.83" y="122.70" width="17.93" height="17.76" rx="5.8" fill="#777" filter="url(#n5_1)"/>
<rect x="118.83" y="122.70" width="17.93" height="17.76" rx="5.8" fill="none" stroke="#464646" stroke-opacity="0.5" stroke-width="1.2"/>
<g transform="translate(127.80 131.58) scale(1.14) translate(-127.80 -131.58)">
<path d="M126.60 127.18 c3 -1.6 6.6 -0.6 7.2 2 c0.6 2.4 -1.2 4.2 -3.4 5 c-1.4 2.2 -4.6 3.2 -7.2 2 c-2.6 -1.2 -3 -4 -1.4 -6 c1 -1.6 2.8 -2.4 4.8 -3z" fill="#3a3a3a"/>
<ellipse cx="126.00" cy="132.38" rx="2.4" ry="1.5" transform="rotate(-30 126.00 132.38)" fill="#1c1c1c"/>
<ellipse cx="130.40" cy="130.18" rx="1.5" ry="1.0" fill="#1c1c1c"/>
<ellipse cx="128.40" cy="133.18" rx="1.2" ry="0.7" fill="#888"/>
</g>
<rect x="139.07" y="120.40" width="22.53" height="22.36" fill="#1a1210"/>
<rect x="139.57" y="120.90" width="21.53" height="21.36" fill="#f47e56"/>
<rect x="141.12" y="122.45" width="18.43" height="18.26" fill="#5a5048"/>
<rect x="141.12" y="122.45" width="18.43" height="18.26" rx="3.2" fill="#999" filter="url(#n5_2)"/>
<rect x="161.60" y="120.40" width="22.53" height="22.36" fill="#1a1210"/>
<rect x="162.10" y="120.90" width="21.53" height="21.36" fill="#f5b294"/>
<rect x="163.65" y="122.45" width="18.43" height="18.26" fill="#5a5048"/>
<rect x="163.65" y="122.45" width="18.43" height="18.26" rx="2.6" fill="#999" filter="url(#n5_3)"/>
<rect x="184.13" y="120.40" width="22.53" height="22.36" fill="#1a1210"/>
<rect x="184.63" y="120.90" width="21.53" height="21.36" fill="#f5c3ab"/>
<rect x="186.18" y="122.45" width="18.43" height="18.26" fill="#5a5048"/>
<rect x="186.18" y="122.45" width="18.43" height="18.26" rx="3.0" fill="#999" filter="url(#n5_4)"/>
<rect x="186.18" y="122.45" width="18.43" height="18.26" rx="3.0" fill="url(#vig)"/>
<rect x="206.67" y="120.40" width="22.53" height="22.36" fill="#1a1210"/>
<rect x="207.17" y="120.90" width="21.53" height="21.36" fill="#a5c0f6"/>
<rect x="208.72" y="122.45" width="18.43" height="18.26" fill="#5a5048"/>
<rect x="208.72" y="122.45" width="18.43" height="18.26" rx="3.0" fill="#999" filter="url(#n5_5)"/>
<rect x="208.72" y="122.45" width="18.43" height="18.26" rx="3.0" fill="url(#vig)"/>
<rect x="94.00" y="142.76" width="22.53" height="22.36" fill="#111"/>
<rect x="94.80" y="143.56" width="20.93" height="20.76" fill="#464646"/>
<rect x="96.20" y="144.96" width="18.13" height="17.96" rx="4" fill="#777" filter="url(#n6_0)"/>
<rect x="97.20" y="145.96" width="16.13" height="15.96" rx="3.4" fill="none" stroke="#ddd" stroke-opacity="0.45" stroke-width="1.0" stroke-dasharray="5 2 7 3"/>
<rect x="96.20" y="144.96" width="18.13" height="17.96" rx="4" fill="url(#mvig)"/>
<rect x="116.53" y="142.76" width="22.53" height="22.36" fill="#111"/>
<rect x="117.33" y="143.56" width="20.93" height="20.76" fill="#464646"/>
<rect x="118.73" y="144.96" width="18.13" height="17.96" rx="4" fill="#777" filter="url(#n6_1)"/>
<rect x="119.73" y="145.96" width="16.13" height="15.96" rx="3.4" fill="none" stroke="#ddd" stroke-opacity="0.45" stroke-width="1.0" stroke-dasharray="5 2 7 3"/>
<rect x="118.73" y="144.96" width="18.13" height="17.96" rx="4" fill="url(#mvig)"/>
<rect x="139.07" y="142.76" width="22.53" height="22.36" fill="#1a1210"/>
<rect x="139.57" y="143.26" width="21.53" height="21.36" fill="#f19a78"/>
<rect x="141.12" y="144.81" width="18.43" height="18.26" fill="#5a5048"/>
<rect x="141.12" y="144.81" width="18.43" height="18.26" rx="3.2" fill="#999" filter="url(#n6_2)"/>
<rect x="161.60" y="142.76" width="22.53" height="22.36" fill="#1a1210"/>
<rect x="162.10" y="143.26" width="21.53" height="21.36" fill="#f4ac8c"/>
<rect x="163.65" y="144.81" width="18.43" height="18.26" fill="#5a5048"/>
<rect x="163.65" y="144.81" width="18.43" height="18.26" rx="2.6" fill="#999" filter="url(#n6_3)"/>
<rect x="184.13" y="142.76" width="22.53" height="22.36" fill="#1a1210"/>
<rect x="184.63" y="143.26" width="21.53" height="21.36" fill="#4468d8"/>
<rect x="186.73" y="145.36" width="17.33" height="17.16" fill="#5a5048"/>
<rect x="186.73" y="145.36" width="17.33" height="17.16" rx="3.0" fill="#999" filter="url(#n6_4)"/>
<rect x="186.73" y="145.36" width="17.33" height="17.16" rx="3.0" fill="url(#vig)"/>
<rect x="206.67" y="142.76" width="22.53" height="22.36" fill="#1a1210"/>
<rect x="207.17" y="143.26" width="21.53" height="21.36" fill="#759df2"/>
<rect x="208.72" y="144.81" width="18.43" height="18.26" fill="#5a5048"/>
<rect x="208.72" y="144.81" width="18.43" height="18.26" rx="3.0" fill="#999" filter="url(#n6_5)"/>
<rect x="208.72" y="144.81" width="18.43" height="18.26" rx="3.0" fill="url(#vig)"/>
<rect x="94.00" y="165.12" width="22.53" height="22.36" fill="#111"/>
<rect x="94.80" y="165.92" width="20.93" height="20.76" fill="#464646"/>
<rect x="96.20" y="167.32" width="18.13" height="17.96" rx="4" fill="#777" filter="url(#n7_0)"/>
<rect x="97.20" y="168.32" width="16.13" height="15.96" rx="3.4" fill="none" stroke="#ddd" stroke-opacity="0.45" stroke-width="1.0" stroke-dasharray="5 2 7 3"/>
<rect x="96.20" y="167.32" width="18.13" height="17.96" rx="4" fill="url(#mvig)"/>
<rect x="116.53" y="165.12" width="22.53" height="22.36" fill="#1a1210"/>
<rect x="117.03" y="165.62" width="21.53" height="21.36" fill="#8fb4f8"/>
<rect x="118.58" y="167.17" width="18.43" height="18.26" fill="#5a5048"/>
<rect x="118.58" y="167.17" width="18.43" height="18.26" rx="2.6" fill="#999" filter="url(#n7_1)"/>
<rect x="139.07" y="165.12" width="22.53" height="22.36" fill="#1a1210"/>
<rect x="139.57" y="165.62" width="21.53" height="21.36" fill="#f9dccb"/>
<rect x="141.12" y="167.17" width="18.43" height="18.26" fill="#5a5048"/>
<rect x="141.12" y="167.17" width="18.43" height="18.26" rx="3.2" fill="#999" filter="url(#n7_2)"/>
<rect x="161.60" y="165.12" width="22.53" height="22.36" fill="#1a1210"/>
<rect x="162.10" y="165.62" width="21.53" height="21.36" fill="#f7c8b0"/>
<rect x="163.65" y="167.17" width="18.43" height="18.26" fill="#5a5048"/>
<rect x="163.65" y="167.17" width="18.43" height="18.26" rx="2.6" fill="#999" filter="url(#n7_3)"/>
<rect x="184.13" y="165.12" width="22.53" height="22.36" fill="#1a1210"/>
<rect x="184.63" y="165.62" width="21.53" height="21.36" fill="#3c5ccc"/>
<rect x="186.73" y="167.72" width="17.33" height="17.16" fill="#5a5048"/>
<rect x="186.73" y="167.72" width="17.33" height="17.16" rx="3.0" fill="#999" filter="url(#n7_4)"/>
<rect x="186.73" y="167.72" width="17.33" height="17.16" rx="3.0" fill="url(#vig)"/>
<rect x="206.67" y="165.12" width="22.53" height="22.36" fill="#1a1210"/>
<rect x="207.17" y="165.62" width="21.53" height="21.36" fill="#b0ccf8"/>
<rect x="208.72" y="167.17" width="18.43" height="18.26" fill="#5a5048"/>
<rect x="208.72" y="167.17" width="18.43" height="18.26" rx="3.0" fill="#999" filter="url(#n7_5)"/>
<rect x="208.72" y="167.17" width="18.43" height="18.26" rx="3.0" fill="url(#vig)"/>
<rect x="94.00" y="187.48" width="22.53" height="22.36" fill="#1a1210"/>
<rect x="94.50" y="187.98" width="21.53" height="21.36" fill="#b0ccf8"/>
<rect x="96.05" y="189.53" width="18.43" height="18.26" fill="#5a5048"/>
<rect x="96.05" y="189.53" width="18.43" height="18.26" rx="2.6" fill="#999" filter="url(#n8_0)"/>
<rect x="116.53" y="187.48" width="22.53" height="22.36" fill="#1a1210"/>
<rect x="117.03" y="187.98" width="21.53" height="21.36" fill="#739df0"/>
<rect x="118.58" y="189.53" width="18.43" height="18.26" fill="#5a5048"/>
<rect x="118.58" y="189.53" width="18.43" height="18.26" rx="3.0" fill="#999" filter="url(#n8_1)"/>
<rect x="118.58" y="189.53" width="18.43" height="18.26" rx="3.0" fill="url(#vig)"/>
<rect x="139.07" y="187.48" width="22.53" height="22.36" fill="#1a1210"/>
<rect x="139.57" y="187.98" width="21.53" height="21.36" fill="#eef0f5"/>
<rect x="141.12" y="189.53" width="18.43" height="18.26" fill="#5a5048"/>
<rect x="141.12" y="189.53" width="18.43" height="18.26" rx="3.2" fill="#999" filter="url(#n8_2)"/>
<rect x="161.60" y="187.48" width="22.53" height="22.36" fill="#1a1210"/>
<rect x="162.10" y="187.98" width="21.53" height="21.36" fill="#eeeae5"/>
<rect x="163.65" y="189.53" width="18.43" height="18.26" fill="#5a5048"/>
<rect x="163.65" y="189.53" width="18.43" height="18.26" rx="2.6" fill="#999" filter="url(#n8_3)"/>
<rect x="184.13" y="187.48" width="22.53" height="22.36" fill="#1a1210"/>
<rect x="184.63" y="187.98" width="21.53" height="21.36" fill="#8aaef5"/>
<rect x="186.18" y="189.53" width="18.43" height="18.26" fill="#5a5048"/>
<rect x="186.18" y="189.53" width="18.43" height="18.26" rx="3.0" fill="#999" filter="url(#n8_4)"/>
<rect x="186.18" y="189.53" width="18.43" height="18.26" rx="3.0" fill="url(#vig)"/>
<rect x="206.67" y="187.48" width="22.53" height="22.36" fill="#1a1210"/>
<rect x="207.17" y="187.98" width="21.53" height="21.36" fill="#bcd4f8"/>
<rect x="208.72" y="189.53" width="18.43" height="18.26" fill="#5a5048"/>
<rect x="208.72" y="189.53" width="18.43" height="18.26" rx="3.0" fill="#999" filter="url(#n8_5)"/>
<rect x="208.72" y="189.53" width="18.43" height="18.26" rx="3.0" fill="url(#vig)"/>
<rect x="94.00" y="209.84" width="22.53" height="22.36" fill="#1a1210"/>
<rect x="94.50" y="210.34" width="21.53" height="21.36" fill="#80a5f2"/>
<rect x="96.05" y="211.89" width="18.43" height="18.26" fill="#5a5048"/>
<rect x="96.05" y="211.89" width="18.43" height="18.26" rx="2.6" fill="#999" filter="url(#n9_0)"/>
<rect x="116.53" y="209.84" width="22.53" height="22.36" fill="#1a1210"/>
<rect x="117.03" y="210.34" width="21.53" height="21.36" fill="#b8d0f8"/>
<rect x="118.58" y="211.89" width="18.43" height="18.26" fill="#5a5048"/>
<rect x="118.58" y="211.89" width="18.43" height="18.26" rx="2.6" fill="#999" filter="url(#n9_1)"/>
<rect x="139.07" y="209.84" width="22.53" height="22.36" fill="#1a1210"/>
<rect x="139.57" y="210.34" width="21.53" height="21.36" fill="#d0def5"/>
<rect x="141.12" y="211.89" width="18.43" height="18.26" fill="#5a5048"/>
<rect x="141.12" y="211.89" width="18.43" height="18.26" rx="2.6" fill="#999" filter="url(#n9_2)"/>
<rect x="161.60" y="209.84" width="22.53" height="22.36" fill="#1a1210"/>
<rect x="162.10" y="210.34" width="21.53" height="21.36" fill="#8db0f5"/>
<rect x="163.65" y="211.89" width="18.43" height="18.26" fill="#5a5048"/>
<rect x="163.65" y="211.89" width="18.43" height="18.26" rx="3.0" fill="#999" filter="url(#n9_3)"/>
<rect x="163.65" y="211.89" width="18.43" height="18.26" rx="3.0" fill="url(#vig)"/>
<rect x="184.13" y="209.84" width="22.53" height="22.36" fill="#1a1210"/>
<rect x="184.63" y="210.34" width="21.53" height="21.36" fill="#739cf0"/>
<rect x="186.18" y="211.89" width="18.43" height="18.26" fill="#5a5048"/>
<rect x="186.18" y="211.89" width="18.43" height="18.26" rx="3.0" fill="#999" filter="url(#n9_4)"/>
<rect x="186.18" y="211.89" width="18.43" height="18.26" rx="3.0" fill="url(#vig)"/>
<rect x="206.67" y="209.84" width="22.53" height="22.36" fill="#1a1210"/>
<rect x="207.17" y="210.34" width="21.53" height="21.36" fill="#9dbcf8"/>
<rect x="208.72" y="211.89" width="18.43" height="18.26" fill="#5a5048"/>
<rect x="208.72" y="211.89" width="18.43" height="18.26" rx="3.0" fill="#999" filter="url(#n9_5)"/>
<rect x="208.72" y="211.89" width="18.43" height="18.26" rx="3.0" fill="url(#vig)"/>
<circle cx="195.63" cy="90.28" r="0.90" fill="#151515"/>
<circle cx="193.13" cy="41.96" r="0.60" fill="#151515"/>
<circle cx="197.13" cy="44.96" r="0.60" fill="#151515"/>
<circle cx="195.63" cy="38.96" r="0.50" fill="#151515"/>
<circle cx="152.57" cy="111.04" r="1.20" fill="#333"/>
<circle cx="103.00" cy="197.48" r="0.70" fill="#151515"/>
<circle cx="106.00" cy="199.98" r="0.70" fill="#151515"/>
<circle cx="110.00" cy="198.48" r="0.60" fill="#151515"/>
<rect x="94.00" y="8.60" width="135.20" height="223.60" fill="none" stroke="#111" stroke-width="0.5"/>
<path d="M139.17 8.60 V165.12 H116.63 V187.48 H94.00" fill="none" stroke="#111" stroke-width="1.2"/>
<path d="M139.17 8.60 V165.12 H116.63 V187.48 H94.00" fill="none" stroke="#fff" stroke-width="1.0" stroke-dasharray="2.5 1.5"/>
<text x="0" y="0" transform="translate(114.7 55.8) rotate(-72.5)" text-anchor="middle" font-size="9.7" style="fill:#fff;stroke:#fff;stroke-width:0.4px" dy="3.4">Mozzarella Phase</text>
<text x="87.3" y="20.50" text-anchor="end" font-size="6.7">95</text>
<text x="87.3" y="45.30" text-anchor="end" font-size="6.7">90</text>
<text x="87.3" y="66.50" text-anchor="end" font-size="6.7">85</text>
<text x="87.3" y="89.60" text-anchor="end" font-size="6.7">80</text>
<text x="87.3" y="111.00" text-anchor="end" font-size="6.7">75</text>
<text x="87.3" y="134.50" text-anchor="end" font-size="6.7">70</text>
<text x="87.3" y="156.70" text-anchor="end" font-size="6.7">65</text>
<text x="87.3" y="180.00" text-anchor="end" font-size="6.7">60</text>
<text x="87.3" y="203.10" text-anchor="end" font-size="6.7">55</text>
<text x="87.3" y="225.00" text-anchor="end" font-size="6.7">50</text>
<text x="105.50" y="240.90" text-anchor="middle" font-size="6.7">0</text>
<text x="127.30" y="240.90" text-anchor="middle" font-size="6.7">0.5</text>
<text x="150.70" y="240.90" text-anchor="middle" font-size="6.7">1</text>
<text x="172.80" y="240.90" text-anchor="middle" font-size="6.7">2</text>
<text x="197.00" y="240.90" text-anchor="middle" font-size="6.7">3</text>
<text x="218.70" y="240.90" text-anchor="middle" font-size="6.7">4</text>
<text x="161.5" y="249.2" text-anchor="middle" font-size="7.8">Starch percentage</text>
<text transform="translate(69.4 126.5) rotate(-90)" text-anchor="middle" font-size="7.8">Temperature [°C]</text>
<text transform="translate(33.8 120.8) rotate(-90)" text-anchor="middle" font-size="7.8">Mean aggregate size [mm]</text>
<text x="63" y="8.4" font-size="7.8">(a)</text>
<rect x="42.0" y="56.8" width="6.8" height="127.8" fill="url(#cb)" stroke="#222" stroke-width="0.4"/>
<path d="M48.8 56.90 h1.6" stroke="#111" stroke-width="0.5"/>
<text x="52.5" y="59.15" font-size="6.6">7</text>
<path d="M48.8 82.42 h1.6" stroke="#111" stroke-width="0.5"/>
<text x="52.5" y="84.67" font-size="6.6">6</text>
<path d="M48.8 107.94 h1.6" stroke="#111" stroke-width="0.5"/>
<text x="52.5" y="110.19" font-size="6.6">5</text>
<path d="M48.8 133.46 h1.6" stroke="#111" stroke-width="0.5"/>
<text x="52.5" y="135.71" font-size="6.6">4</text>
<path d="M48.8 158.98 h1.6" stroke="#111" stroke-width="0.5"/>
<text x="52.5" y="161.23" font-size="6.6">3</text>
<path d="M48.8 184.50 h1.6" stroke="#111" stroke-width="0.5"/>
<text x="52.5" y="186.75" font-size="6.6">2</text>
<rect x="262.40" y="8.50" width="112.90" height="98.90" fill="#4b4b4b"/>
<rect x="300.03" y="8.50" width="19.52" height="10.59" fill="#f39577"/>
<rect x="318.85" y="8.50" width="19.52" height="10.59" fill="#f7ba9f"/>
<rect x="337.67" y="8.50" width="19.52" height="10.59" fill="#f2cbb7"/>
<rect x="356.48" y="8.50" width="18.82" height="10.59" fill="#ebd3c6"/>
<rect x="300.03" y="18.39" width="19.52" height="10.59" fill="#f18d6f"/>
<rect x="318.85" y="18.39" width="19.52" height="10.59" fill="#f7b396"/>
<rect x="337.67" y="18.39" width="19.52" height="10.59" fill="#f4c6af"/>
<rect x="356.48" y="18.39" width="18.82" height="10.59" fill="#ebd3c6"/>
<rect x="300.03" y="28.28" width="19.52" height="10.59" fill="#ea7b60"/>
<rect x="318.85" y="28.28" width="19.52" height="10.59" fill="#f6a586"/>
<rect x="337.67" y="28.28" width="19.52" height="10.59" fill="#f5c2aa"/>
<rect x="356.48" y="28.28" width="18.82" height="10.59" fill="#e9d5cb"/>
<rect x="300.03" y="38.17" width="19.52" height="10.59" fill="#e0654f"/>
<rect x="318.85" y="38.17" width="19.52" height="10.59" fill="#f39577"/>
<rect x="337.67" y="38.17" width="19.52" height="10.59" fill="#f5c0a7"/>
<rect x="356.48" y="38.17" width="18.82" height="10.59" fill="#e9d5cb"/>
<rect x="300.03" y="48.06" width="19.52" height="10.59" fill="#df634e"/>
<rect x="318.85" y="48.06" width="19.52" height="10.59" fill="#f59d7e"/>
<rect x="337.67" y="48.06" width="19.52" height="10.59" fill="#f1cdba"/>
<rect x="356.48" y="48.06" width="18.82" height="10.59" fill="#cfdaea"/>
<rect x="300.03" y="57.95" width="19.52" height="10.59" fill="#ee8468"/>
<rect x="318.85" y="57.95" width="19.52" height="10.59" fill="#f7ba9f"/>
<rect x="337.67" y="57.95" width="19.52" height="10.59" fill="#e4d9d2"/>
<rect x="356.48" y="57.95" width="18.82" height="10.59" fill="#b3cdfb"/>
<rect x="300.03" y="67.84" width="19.52" height="10.59" fill="#f7b093"/>
<rect x="318.85" y="67.84" width="19.52" height="10.59" fill="#ebd3c6"/>
<rect x="337.67" y="67.84" width="19.52" height="10.59" fill="#b3cdfb"/>
<rect x="356.48" y="67.84" width="18.82" height="10.59" fill="#9bbcff"/>
<rect x="281.22" y="77.73" width="19.52" height="10.59" fill="#f4c6af"/>
<rect x="300.03" y="77.73" width="19.52" height="10.59" fill="#e7d7ce"/>
<rect x="318.85" y="77.73" width="19.52" height="10.59" fill="#c3d5f4"/>
<rect x="337.67" y="77.73" width="19.52" height="10.59" fill="#a5c3fe"/>
<rect x="356.48" y="77.73" width="18.82" height="10.59" fill="#90b2fe"/>
<rect x="262.40" y="87.62" width="19.52" height="10.59" fill="#c6d6f1"/>
<rect x="281.22" y="87.62" width="19.52" height="10.59" fill="#c0d4f5"/>
<rect x="300.03" y="87.62" width="19.52" height="10.59" fill="#b6cefa"/>
<rect x="318.85" y="87.62" width="19.52" height="10.59" fill="#a9c6fd"/>
<rect x="337.67" y="87.62" width="19.52" height="10.59" fill="#94b6ff"/>
<rect x="356.48" y="87.62" width="18.82" height="10.59" fill="#8db0fe"/>
<rect x="262.40" y="97.51" width="19.52" height="9.89" fill="#a5c3fe"/>
<rect x="281.22" y="97.51" width="19.52" height="9.89" fill="#a9c6fd"/>
<rect x="300.03" y="97.51" width="19.52" height="9.89" fill="#9ebeff"/>
<rect x="318.85" y="97.51" width="19.52" height="9.89" fill="#97b8ff"/>
<rect x="337.67" y="97.51" width="19.52" height="9.89" fill="#8db0fe"/>
<rect x="356.48" y="97.51" width="18.82" height="9.89" fill="#85a8fc"/>
<rect x="262.40" y="8.50" width="112.90" height="98.90" fill="none" stroke="#777" stroke-width="0.5"/>
<path d="M300.03 8.50 V77.73 H281.22 V87.62 H262.40" fill="none" stroke="#fff" stroke-width="0.8" stroke-dasharray="1.6 1.0"/>
<path d="M262.40 13.45 h-1.6" stroke="#111" stroke-width="0.5"/>
<text x="258.8" y="15.85" text-anchor="end" font-size="6.7">95</text>
<path d="M262.40 23.34 h-1.6" stroke="#111" stroke-width="0.5"/>
<text x="258.8" y="25.73" text-anchor="end" font-size="6.7">90</text>
<path d="M262.40 33.23 h-1.6" stroke="#111" stroke-width="0.5"/>
<text x="258.8" y="35.62" text-anchor="end" font-size="6.7">85</text>
<path d="M262.40 43.12 h-1.6" stroke="#111" stroke-width="0.5"/>
<text x="258.8" y="45.52" text-anchor="end" font-size="6.7">80</text>
<path d="M262.40 53.01 h-1.6" stroke="#111" stroke-width="0.5"/>
<text x="258.8" y="55.41" text-anchor="end" font-size="6.7">75</text>
<path d="M262.40 62.90 h-1.6" stroke="#111" stroke-width="0.5"/>
<text x="258.8" y="65.30" text-anchor="end" font-size="6.7">70</text>
<path d="M262.40 72.78 h-1.6" stroke="#111" stroke-width="0.5"/>
<text x="258.8" y="75.19" text-anchor="end" font-size="6.7">65</text>
<path d="M262.40 82.68 h-1.6" stroke="#111" stroke-width="0.5"/>
<text x="258.8" y="85.08" text-anchor="end" font-size="6.7">60</text>
<path d="M262.40 92.56 h-1.6" stroke="#111" stroke-width="0.5"/>
<text x="258.8" y="94.97" text-anchor="end" font-size="6.7">55</text>
<path d="M262.40 102.46 h-1.6" stroke="#111" stroke-width="0.5"/>
<text x="258.8" y="104.86" text-anchor="end" font-size="6.7">50</text>
<path d="M271.81 107.40 v1.6" stroke="#111" stroke-width="0.5"/>
<text x="271.81" y="116.20" text-anchor="middle" font-size="6.7">0</text>
<path d="M290.62 107.40 v1.6" stroke="#111" stroke-width="0.5"/>
<text x="290.62" y="116.20" text-anchor="middle" font-size="6.7">0.5</text>
<path d="M309.44 107.40 v1.6" stroke="#111" stroke-width="0.5"/>
<text x="309.44" y="116.20" text-anchor="middle" font-size="6.7">1</text>
<path d="M328.26 107.40 v1.6" stroke="#111" stroke-width="0.5"/>
<text x="328.26" y="116.20" text-anchor="middle" font-size="6.7">2</text>
<path d="M347.07 107.40 v1.6" stroke="#111" stroke-width="0.5"/>
<text x="347.07" y="116.20" text-anchor="middle" font-size="6.7">3</text>
<path d="M365.89 107.40 v1.6" stroke="#111" stroke-width="0.5"/>
<text x="365.89" y="116.20" text-anchor="middle" font-size="6.7">4</text>
<text x="318.9" y="124.1" text-anchor="middle" font-size="7.8">Starch percentage</text>
<text transform="translate(243.3 57.8) rotate(-90)" text-anchor="middle" font-size="7.8">Temperature [°C]</text>
<text x="238.9" y="6.6" font-size="7.8">(b)</text>
<g clip-path="url(#cc)"><g filter="url(#vb)">
<rect x="262.40" y="124.80" width="112.90" height="6" fill="url(#c0)"/>
<rect x="262.40" y="230.90" width="112.90" height="6" fill="url(#c50)"/>
<rect x="262.40" y="130.15" width="112.90" height="2.28" fill="url(#c0)"/>
<rect x="262.40" y="132.13" width="112.90" height="2.28" fill="url(#c1)"/>
<rect x="262.40" y="134.11" width="112.90" height="2.28" fill="url(#c2)"/>
<rect x="262.40" y="136.10" width="112.90" height="2.28" fill="url(#c3)"/>
<rect x="262.40" y="138.08" width="112.90" height="2.28" fill="url(#c4)"/>
<rect x="262.40" y="140.06" width="112.90" height="2.28" fill="url(#c5)"/>
<rect x="262.40" y="142.04" width="112.90" height="2.28" fill="url(#c6)"/>
<rect x="262.40" y="144.03" width="112.90" height="2.28" fill="url(#c7)"/>
<rect x="262.40" y="146.01" width="112.90" height="2.28" fill="url(#c8)"/>
<rect x="262.40" y="147.99" width="112.90" height="2.28" fill="url(#c9)"/>
<rect x="262.40" y="149.97" width="112.90" height="2.28" fill="url(#c10)"/>
<rect x="262.40" y="151.96" width="112.90" height="2.28" fill="url(#c11)"/>
<rect x="262.40" y="153.94" width="112.90" height="2.28" fill="url(#c12)"/>
<rect x="262.40" y="155.92" width="112.90" height="2.28" fill="url(#c13)"/>
<rect x="262.40" y="157.90" width="112.90" height="2.28" fill="url(#c14)"/>
<rect x="262.40" y="159.89" width="112.90" height="2.28" fill="url(#c15)"/>
<rect x="262.40" y="161.87" width="112.90" height="2.28" fill="url(#c16)"/>
<rect x="262.40" y="163.85" width="112.90" height="2.28" fill="url(#c17)"/>
<rect x="262.40" y="165.83" width="112.90" height="2.28" fill="url(#c18)"/>
<rect x="262.40" y="167.81" width="112.90" height="2.28" fill="url(#c19)"/>
<rect x="262.40" y="169.80" width="112.90" height="2.28" fill="url(#c20)"/>
<rect x="262.40" y="171.78" width="112.90" height="2.28" fill="url(#c21)"/>
<rect x="262.40" y="173.76" width="112.90" height="2.28" fill="url(#c22)"/>
<rect x="262.40" y="175.74" width="112.90" height="2.28" fill="url(#c23)"/>
<rect x="262.40" y="177.73" width="112.90" height="2.28" fill="url(#c24)"/>
<rect x="262.40" y="179.71" width="112.90" height="2.28" fill="url(#c25)"/>
<rect x="262.40" y="181.69" width="112.90" height="2.28" fill="url(#c26)"/>
<rect x="262.40" y="183.67" width="112.90" height="2.28" fill="url(#c27)"/>
<rect x="262.40" y="185.66" width="112.90" height="2.28" fill="url(#c28)"/>
<rect x="262.40" y="187.64" width="112.90" height="2.28" fill="url(#c29)"/>
<rect x="262.40" y="189.62" width="112.90" height="2.28" fill="url(#c30)"/>
<rect x="262.40" y="191.60" width="112.90" height="2.28" fill="url(#c31)"/>
<rect x="262.40" y="193.59" width="112.90" height="2.28" fill="url(#c32)"/>
<rect x="262.40" y="195.57" width="112.90" height="2.28" fill="url(#c33)"/>
<rect x="262.40" y="197.55" width="112.90" height="2.28" fill="url(#c34)"/>
<rect x="262.40" y="199.53" width="112.90" height="2.28" fill="url(#c35)"/>
<rect x="262.40" y="201.51" width="112.90" height="2.28" fill="url(#c36)"/>
<rect x="262.40" y="203.50" width="112.90" height="2.28" fill="url(#c37)"/>
<rect x="262.40" y="205.48" width="112.90" height="2.28" fill="url(#c38)"/>
<rect x="262.40" y="207.46" width="112.90" height="2.28" fill="url(#c39)"/>
<rect x="262.40" y="209.44" width="112.90" height="2.28" fill="url(#c40)"/>
<rect x="262.40" y="211.43" width="112.90" height="2.28" fill="url(#c41)"/>
<rect x="262.40" y="213.41" width="112.90" height="2.28" fill="url(#c42)"/>
<rect x="262.40" y="215.39" width="112.90" height="2.28" fill="url(#c43)"/>
<rect x="262.40" y="217.37" width="112.90" height="2.28" fill="url(#c44)"/>
<rect x="262.40" y="219.36" width="112.90" height="2.28" fill="url(#c45)"/>
<rect x="262.40" y="221.34" width="112.90" height="2.28" fill="url(#c46)"/>
<rect x="262.40" y="223.32" width="112.90" height="2.28" fill="url(#c47)"/>
<rect x="262.40" y="225.30" width="112.90" height="2.28" fill="url(#c48)"/>
<rect x="262.40" y="227.29" width="112.90" height="2.28" fill="url(#c49)"/>
<rect x="262.40" y="229.27" width="112.90" height="2.28" fill="url(#c50)"/>
</g></g>
<path d="M262.40 130.30 H287.0 V190.5 C287.0 200.5 281.5 206.5 273 208.6 C269 209.7 265.5 210.2 262.40 210.6 Z" fill="#4b4b4b"/>
<path d="M287.0 130.30 V190.5 C287.0 200.5 281.5 206.5 273 208.6 C269 209.7 265.5 210.2 262.40 210.6" fill="none" stroke="#fff" stroke-width="1.0" stroke-dasharray="2.6 1.5"/>
<rect x="262.40" y="130.30" width="112.90" height="101.10" fill="none" stroke="#777" stroke-width="0.5"/>
<path d="M262.40 130.30 h-1.6" stroke="#111" stroke-width="0.5"/>
<text x="258.8" y="133.70" text-anchor="end" font-size="6.7">95</text>
<path d="M262.40 141.53 h-1.6" stroke="#111" stroke-width="0.5"/>
<text x="258.8" y="144.93" text-anchor="end" font-size="6.7">90</text>
<path d="M262.40 152.77 h-1.6" stroke="#111" stroke-width="0.5"/>
<text x="258.8" y="156.17" text-anchor="end" font-size="6.7">85</text>
<path d="M262.40 164.00 h-1.6" stroke="#111" stroke-width="0.5"/>
<text x="258.8" y="167.40" text-anchor="end" font-size="6.7">80</text>
<path d="M262.40 175.23 h-1.6" stroke="#111" stroke-width="0.5"/>
<text x="258.8" y="178.63" text-anchor="end" font-size="6.7">75</text>
<path d="M262.40 186.47 h-1.6" stroke="#111" stroke-width="0.5"/>
<text x="258.8" y="189.87" text-anchor="end" font-size="6.7">70</text>
<path d="M262.40 197.70 h-1.6" stroke="#111" stroke-width="0.5"/>
<text x="258.8" y="201.10" text-anchor="end" font-size="6.7">65</text>
<path d="M262.40 208.93 h-1.6" stroke="#111" stroke-width="0.5"/>
<text x="258.8" y="212.33" text-anchor="end" font-size="6.7">60</text>
<path d="M262.40 220.17 h-1.6" stroke="#111" stroke-width="0.5"/>
<text x="258.8" y="223.57" text-anchor="end" font-size="6.7">55</text>
<path d="M262.40 231.40 h-1.6" stroke="#111" stroke-width="0.5"/>
<text x="258.8" y="234.80" text-anchor="end" font-size="6.7">50</text>
<path d="M262.40 231.40 v1.6" stroke="#111" stroke-width="0.5"/>
<path d="M276.51 231.40 v1.0" stroke="#111" stroke-width="0.5"/>
<path d="M290.62 231.40 v1.6" stroke="#111" stroke-width="0.5"/>
<path d="M304.74 231.40 v1.0" stroke="#111" stroke-width="0.5"/>
<path d="M318.85 231.40 v1.6" stroke="#111" stroke-width="0.5"/>
<path d="M332.96 231.40 v1.0" stroke="#111" stroke-width="0.5"/>
<path d="M347.07 231.40 v1.6" stroke="#111" stroke-width="0.5"/>
<path d="M361.19 231.40 v1.0" stroke="#111" stroke-width="0.5"/>
<path d="M375.30 231.40 v1.6" stroke="#111" stroke-width="0.5"/>
<text x="262.90" y="241.00" text-anchor="middle" font-size="6.7">0</text>
<text x="291.12" y="241.00" text-anchor="middle" font-size="6.7">1</text>
<text x="319.35" y="241.00" text-anchor="middle" font-size="6.7">2</text>
<text x="347.57" y="241.00" text-anchor="middle" font-size="6.7">3</text>
<text x="375.80" y="241.00" text-anchor="middle" font-size="6.7">4</text>
<text x="318.9" y="249.6" text-anchor="middle" font-size="7.8">Starch percentage</text>
<text transform="translate(243.3 186.6) rotate(-90)" text-anchor="middle" font-size="7.8">Temperature [°C]</text>
<text x="238.8" y="128.4" font-size="7.8">(c)</text>
<rect x="386.2" y="58.5" width="6.4" height="127.8" fill="url(#cb)" stroke="#222" stroke-width="0.4"/>
<path d="M392.6 58.60 h1.6" stroke="#111" stroke-width="0.5"/>
<text x="396.2" y="60.85" font-size="6.4">5.0</text>
<path d="M392.6 79.88 h1.6" stroke="#111" stroke-width="0.5"/>
<text x="396.2" y="82.13" font-size="6.4">4.5</text>
<path d="M392.6 101.16 h1.6" stroke="#111" stroke-width="0.5"/>
<text x="396.2" y="103.41" font-size="6.4">4.0</text>
<path d="M392.6 122.44 h1.6" stroke="#111" stroke-width="0.5"/>
<text x="396.2" y="124.69" font-size="6.4">3.5</text>
<path d="M392.6 143.72 h1.6" stroke="#111" stroke-width="0.5"/>
<text x="396.2" y="145.97" font-size="6.4">3.0</text>
<path d="M392.6 165.00 h1.6" stroke="#111" stroke-width="0.5"/>
<text x="396.2" y="167.25" font-size="6.4">2.5</text>
<path d="M392.6 186.28 h1.6" stroke="#111" stroke-width="0.5"/>
<text x="396.2" y="188.53" font-size="6.4">2.0</text>
<text transform="translate(418.3 120.9) rotate(-90)" text-anchor="middle" font-size="7.8">Mean aggregate size [mm]</text>
</svg></body></html>
